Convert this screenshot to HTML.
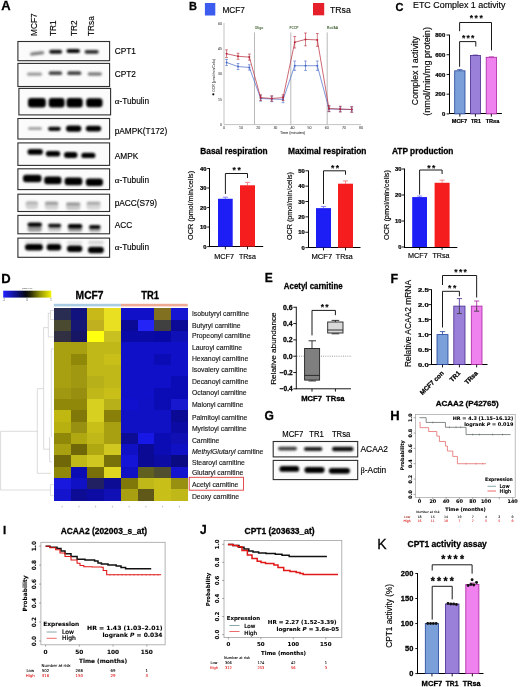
<!DOCTYPE html><html><head><meta charset="utf-8"><title>Figure</title>
<style>html,body{margin:0;padding:0;background:#fff;}svg{display:block;}text{font-family:'Liberation Sans', Arial, sans-serif;}</style></head><body>
<svg width="520" height="687" viewBox="0 0 520 687">
<defs><filter id="bl" x="-30%" y="-80%" width="160%" height="260%"><feGaussianBlur stdDeviation="0.9"/></filter><filter id="bl2" x="-30%" y="-80%" width="160%" height="260%"><feGaussianBlur stdDeviation="1.3"/></filter><linearGradient id="ck" x1="0" x2="1" y1="0" y2="0"><stop offset="0" stop-color="#2222ff"/><stop offset="0.25" stop-color="#101090"/><stop offset="0.47" stop-color="#050510"/><stop offset="0.55" stop-color="#202005"/><stop offset="0.78" stop-color="#9a9a05"/><stop offset="1" stop-color="#f5f500"/></linearGradient></defs>
<rect x="0" y="0" width="520" height="687" fill="#fff" stroke="none" stroke-width="1" />
<text x="1.2" y="10.4" font-size="13" stroke="#000" stroke-width="0.28" font-weight="bold">A</text>
<text x="37.3" y="36" font-size="8.3" stroke="#000" stroke-width="0.15" transform="rotate(-90 37.3 36)">MCF7</text>
<text x="55.7" y="36" font-size="8.3" stroke="#000" stroke-width="0.15" transform="rotate(-90 55.7 36)">TR1</text>
<text x="76.5" y="36" font-size="8.3" stroke="#000" stroke-width="0.15" transform="rotate(-90 76.5 36)">TR2</text>
<text x="94.2" y="36" font-size="8.3" stroke="#000" stroke-width="0.15" transform="rotate(-90 94.2 36)">TRsa</text>
<rect x="17.9" y="41.5" width="91.7" height="19.2" fill="#fbfbfb" stroke="#2e2e2e" stroke-width="1.1" />
<text x="114.7" y="54.1" font-size="8.3" stroke="#000" stroke-width="0.15">CPT1</text>
<rect x="17.9" y="63.4" width="91.7" height="23.1" fill="#fbfbfb" stroke="#2e2e2e" stroke-width="1.1" />
<text x="114.7" y="77.1" font-size="8.3" stroke="#000" stroke-width="0.15">CPT2</text>
<rect x="18.9" y="88.4" width="91.7" height="26.5" fill="#fbfbfb" stroke="#2e2e2e" stroke-width="1.1" />
<text x="114.7" y="104.3" font-size="8.3" stroke="#000" stroke-width="0.15"><tspan style="font-family:Liberation Serif" font-size="9">&#945;</tspan>-Tubulin</text>
<rect x="17.9" y="118.5" width="91.7" height="20.5" fill="#fbfbfb" stroke="#2e2e2e" stroke-width="1.1" />
<text x="114.7" y="134.2" font-size="8.3" stroke="#000" stroke-width="0.15">pAMPK(T172)</text>
<rect x="17.9" y="142.9" width="91.7" height="22.5" fill="#fbfbfb" stroke="#2e2e2e" stroke-width="1.1" />
<text x="114.7" y="159" font-size="8.3" stroke="#000" stroke-width="0.15">AMPK</text>
<rect x="17.9" y="168.8" width="91.7" height="20.8" fill="#fbfbfb" stroke="#2e2e2e" stroke-width="1.1" />
<text x="114.7" y="183" font-size="8.3" stroke="#000" stroke-width="0.15"><tspan style="font-family:Liberation Serif" font-size="9">&#945;</tspan>-Tubulin</text>
<rect x="17.9" y="194.2" width="91.7" height="17.3" fill="#fbfbfb" stroke="#2e2e2e" stroke-width="1.1" />
<text x="114.7" y="206" font-size="8.3" stroke="#000" stroke-width="0.15">pACC(S79)</text>
<rect x="17.9" y="215.4" width="91.7" height="18.4" fill="#fbfbfb" stroke="#2e2e2e" stroke-width="1.1" />
<text x="114.7" y="228" font-size="8.3" stroke="#000" stroke-width="0.15">ACC</text>
<rect x="17.9" y="238.1" width="91.7" height="19.2" fill="#fbfbfb" stroke="#2e2e2e" stroke-width="1.1" />
<text x="114.7" y="250.3" font-size="8.3" stroke="#000" stroke-width="0.15"><tspan style="font-family:Liberation Serif" font-size="9">&#945;</tspan>-Tubulin</text>
<rect x="49.2" y="49.8" width="12.9" height="4" rx="2" fill="#000" fill-opacity="0.92" filter="url(#bl)"/>
<rect x="66.5" y="49.1" width="13.5" height="4" rx="2" fill="#000" fill-opacity="0.97" filter="url(#bl)"/>
<rect x="84.6" y="49.9" width="14.1" height="3.8" rx="1.9" fill="#000" fill-opacity="0.82" filter="url(#bl)"/>
<rect x="27" y="72.6" width="15" height="3.2" rx="1.6" fill="#000" fill-opacity="0.38" filter="url(#bl)"/>
<rect x="48.7" y="71.3" width="13.4" height="3.8" rx="1.9" fill="#000" fill-opacity="0.72" filter="url(#bl)"/>
<rect x="67.3" y="71.3" width="14" height="3.8" rx="1.9" fill="#000" fill-opacity="0.74" filter="url(#bl)"/>
<rect x="87.7" y="72.3" width="14.2" height="3.4" rx="1.7" fill="#000" fill-opacity="0.5" filter="url(#bl)"/>
<rect x="28" y="98.1" width="17.8" height="9.4" rx="3" fill="#000" fill-opacity="1" filter="url(#bl)"/>
<rect x="48.7" y="98.1" width="15.9" height="9.4" rx="3" fill="#000" fill-opacity="1" filter="url(#bl)"/>
<rect x="66.5" y="98.1" width="16.2" height="9.4" rx="3" fill="#000" fill-opacity="1" filter="url(#bl)"/>
<rect x="86.2" y="98.3" width="16.3" height="9" rx="3" fill="#000" fill-opacity="1" filter="url(#bl)"/>
<rect x="28" y="127" width="14" height="3" rx="1.5" fill="#000" fill-opacity="0.35" filter="url(#bl)"/>
<rect x="48" y="126.7" width="12.8" height="4.2" rx="2.1" fill="#000" fill-opacity="0.95" filter="url(#bl)"/>
<rect x="66" y="125.5" width="15.3" height="6.2" rx="3" fill="#000" fill-opacity="1" filter="url(#bl)"/>
<rect x="85.8" y="125.7" width="15.4" height="5.8" rx="2.9" fill="#000" fill-opacity="1" filter="url(#bl)"/>
<rect x="27.5" y="149.1" width="15.4" height="5.6" rx="2.8" fill="#000" fill-opacity="1" filter="url(#bl)"/>
<rect x="45.8" y="151" width="14.4" height="5.6" rx="2.8" fill="#000" fill-opacity="1" filter="url(#bl)"/>
<rect x="64" y="152.1" width="13.5" height="5.8" rx="2.9" fill="#000" fill-opacity="1" filter="url(#bl)"/>
<rect x="81.3" y="152.7" width="14.1" height="5.4" rx="2.7" fill="#000" fill-opacity="1" filter="url(#bl)"/>
<rect x="23" y="174.7" width="18.5" height="7.6" rx="3" fill="#000" fill-opacity="1" filter="url(#bl)"/>
<rect x="44.2" y="176.6" width="17.3" height="7.6" rx="3" fill="#000" fill-opacity="1" filter="url(#bl)"/>
<rect x="64.6" y="177.4" width="17.7" height="7.8" rx="3" fill="#000" fill-opacity="1" filter="url(#bl)"/>
<rect x="85.8" y="178.5" width="17.2" height="7.6" rx="3" fill="#000" fill-opacity="1" filter="url(#bl)"/>
<rect x="25.6" y="201" width="12.4" height="8" rx="3" fill="#000" fill-opacity="0.17" filter="url(#bl2)"/>
<rect x="44.8" y="202.5" width="13.5" height="7" rx="3" fill="#000" fill-opacity="0.17" filter="url(#bl2)"/>
<rect x="66" y="203" width="14.4" height="7" rx="3" fill="#000" fill-opacity="0.2" filter="url(#bl2)"/>
<rect x="86.5" y="202.5" width="14.1" height="7" rx="3" fill="#000" fill-opacity="0.15" filter="url(#bl2)"/>
<rect x="25.6" y="201.7" width="12.4" height="2.6" rx="1.3" fill="#000" fill-opacity="0.15" filter="url(#bl)"/>
<rect x="44.8" y="201.5" width="13.5" height="3" rx="1.5" fill="#000" fill-opacity="0.3" filter="url(#bl)"/>
<rect x="66" y="202.3" width="14.4" height="3" rx="1.5" fill="#000" fill-opacity="0.28" filter="url(#bl)"/>
<rect x="86.5" y="201.5" width="14.1" height="3" rx="1.5" fill="#000" fill-opacity="0.25" filter="url(#bl)"/>
<rect x="27.5" y="225.8" width="14.5" height="6" rx="3" fill="#000" fill-opacity="0.38" filter="url(#bl2)"/>
<rect x="48" y="226.5" width="13.2" height="5" rx="2.5" fill="#000" fill-opacity="0.22" filter="url(#bl2)"/>
<rect x="67.9" y="227" width="14.4" height="5" rx="2.5" fill="#000" fill-opacity="0.35" filter="url(#bl2)"/>
<rect x="89" y="227.75" width="11.6" height="4.5" rx="2.25" fill="#000" fill-opacity="0.3" filter="url(#bl2)"/>
<rect x="27.5" y="222.4" width="14.5" height="4.4" rx="2.2" fill="#000" fill-opacity="1" filter="url(#bl)"/>
<rect x="48" y="223.8" width="13.2" height="3.6" rx="1.8" fill="#000" fill-opacity="0.95" filter="url(#bl)"/>
<rect x="67.9" y="224" width="14.4" height="4.4" rx="2.2" fill="#000" fill-opacity="1" filter="url(#bl)"/>
<rect x="89" y="225" width="11.6" height="4" rx="2" fill="#000" fill-opacity="0.95" filter="url(#bl)"/>
<rect x="25" y="240.5" width="17.9" height="3" rx="1.5" fill="#000" fill-opacity="0.1" filter="url(#bl2)"/>
<rect x="46.7" y="240.5" width="14.5" height="3" rx="1.5" fill="#000" fill-opacity="0.1" filter="url(#bl2)"/>
<rect x="67" y="241" width="15.3" height="3" rx="1.5" fill="#000" fill-opacity="0.12" filter="url(#bl2)"/>
<rect x="88" y="240.75" width="15.8" height="3.5" rx="1.75" fill="#000" fill-opacity="0.15" filter="url(#bl2)"/>
<rect x="25" y="244" width="17.9" height="6.6" rx="3" fill="#000" fill-opacity="1" filter="url(#bl)"/>
<rect x="46.7" y="244" width="14.5" height="6.6" rx="3" fill="#000" fill-opacity="1" filter="url(#bl)"/>
<rect x="67" y="245.4" width="15.3" height="6.6" rx="3" fill="#000" fill-opacity="1" filter="url(#bl)"/>
<rect x="88" y="246.8" width="15.8" height="6.4" rx="3" fill="#000" fill-opacity="1" filter="url(#bl)"/>
<rect x="30" y="51.7" width="14.2" height="3.4" rx="1.7" fill="#000" fill-opacity="0.5" filter="url(#bl)" transform="rotate(-7 37.1 53.4)"/>
<text x="189" y="10.1" font-size="11" stroke="#000" stroke-width="0.28" font-weight="bold">B</text>
<rect x="204.9" y="3" width="10.4" height="12.5" fill="#3c5cf0" stroke="none" stroke-width="1" />
<text x="222.4" y="12.8" font-size="8.5" stroke="#000" stroke-width="0.15" textLength="22.5" lengthAdjust="spacingAndGlyphs">MCF7</text>
<rect x="313" y="3" width="11.2" height="12.3" fill="#e5202a" stroke="none" stroke-width="1" />
<text x="330" y="12.8" font-size="8.5" stroke="#000" stroke-width="0.15" textLength="20.7" lengthAdjust="spacingAndGlyphs">TRsa</text>
<line x1="224" y1="23" x2="224" y2="124.6" stroke="#9a9a9a" stroke-width="0.6" />
<line x1="224" y1="124.6" x2="361" y2="124.6" stroke="#9a9a9a" stroke-width="0.6" />
<text x="222" y="125.9" font-size="3.6" stroke="#555" stroke-width="0.08" text-anchor="end" fill="#555">0</text>
<text x="222" y="100.59" font-size="3.6" stroke="#555" stroke-width="0.08" text-anchor="end" fill="#555">15</text>
<text x="222" y="75.29" font-size="3.6" stroke="#555" stroke-width="0.08" text-anchor="end" fill="#555">30</text>
<text x="222" y="49.98" font-size="3.6" stroke="#555" stroke-width="0.08" text-anchor="end" fill="#555">45</text>
<text x="222" y="24.68" font-size="3.6" stroke="#555" stroke-width="0.08" text-anchor="end" fill="#555">60</text>
<text x="224" y="129.3" font-size="3.6" stroke="#555" stroke-width="0.08" text-anchor="middle" fill="#555">0</text>
<text x="241.12" y="129.3" font-size="3.6" stroke="#555" stroke-width="0.08" text-anchor="middle" fill="#555">10</text>
<text x="258.25" y="129.3" font-size="3.6" stroke="#555" stroke-width="0.08" text-anchor="middle" fill="#555">20</text>
<text x="275.38" y="129.3" font-size="3.6" stroke="#555" stroke-width="0.08" text-anchor="middle" fill="#555">30</text>
<text x="292.5" y="129.3" font-size="3.6" stroke="#555" stroke-width="0.08" text-anchor="middle" fill="#555">40</text>
<text x="309.62" y="129.3" font-size="3.6" stroke="#555" stroke-width="0.08" text-anchor="middle" fill="#555">50</text>
<text x="326.75" y="129.3" font-size="3.6" stroke="#555" stroke-width="0.08" text-anchor="middle" fill="#555">60</text>
<text x="343.88" y="129.3" font-size="3.6" stroke="#555" stroke-width="0.08" text-anchor="middle" fill="#555">70</text>
<text x="361" y="129.3" font-size="3.6" stroke="#555" stroke-width="0.08" text-anchor="middle" fill="#555">80</text>
<text x="292.5" y="134" font-size="3.8" stroke="#444" stroke-width="0.08" text-anchor="middle" fill="#444">Time (minutes)</text>
<circle cx="213.3" cy="94.3" r="1.1" fill="#111"/>
<text x="214.6" y="91.8" font-size="3.4" stroke="#444" stroke-width="0.07" fill="#444" transform="rotate(-90 214.6 91.8)">OCR (pmol/min/Cells)</text>
<line x1="254.5" y1="32.4" x2="254.5" y2="124.6" stroke="#8a8a8a" stroke-width="0.6" />
<text x="254.8" y="29.2" font-size="3.3" font-weight="bold" fill="#3f6032">Oligo</text>
<line x1="290.8" y1="32.4" x2="290.8" y2="124.6" stroke="#8a8a8a" stroke-width="0.6" />
<text x="289.4" y="29.2" font-size="3.3" font-weight="bold" fill="#3f6032">FCCP</text>
<line x1="327.2" y1="32.4" x2="327.2" y2="124.6" stroke="#8a8a8a" stroke-width="0.6" />
<text x="327" y="29.2" font-size="3.3" font-weight="bold" fill="#3f6032">Rot/AA</text>
<polyline points="226.57,62.52 238.04,66.57 249.34,67.41 260.65,98.45 271.78,98.96 283.08,99.46 294.73,65.72 305.51,65.72 317.33,65.72 328.98,108.91 340.28,109.25 351.75,109.59" stroke="#4868c8" stroke-width="0.7" fill="none" />
<line x1="226.57" y1="59.48" x2="226.57" y2="65.55" stroke="#4868c8" stroke-width="0.6" />
<line x1="225.17" y1="59.48" x2="227.97" y2="59.48" stroke="#4868c8" stroke-width="0.6" />
<line x1="225.17" y1="65.55" x2="227.97" y2="65.55" stroke="#4868c8" stroke-width="0.6" />
<circle cx="226.57" cy="62.52" r="1.0" fill="#4868c8"/>
<line x1="238.04" y1="63.53" x2="238.04" y2="69.6" stroke="#4868c8" stroke-width="0.6" />
<line x1="236.64" y1="63.53" x2="239.44" y2="63.53" stroke="#4868c8" stroke-width="0.6" />
<line x1="236.64" y1="69.6" x2="239.44" y2="69.6" stroke="#4868c8" stroke-width="0.6" />
<circle cx="238.04" cy="66.57" r="1.0" fill="#4868c8"/>
<line x1="249.34" y1="64.71" x2="249.34" y2="70.11" stroke="#4868c8" stroke-width="0.6" />
<line x1="247.94" y1="64.71" x2="250.75" y2="64.71" stroke="#4868c8" stroke-width="0.6" />
<line x1="247.94" y1="70.11" x2="250.75" y2="70.11" stroke="#4868c8" stroke-width="0.6" />
<circle cx="249.34" cy="67.41" r="1.0" fill="#4868c8"/>
<line x1="260.65" y1="95.75" x2="260.65" y2="101.15" stroke="#4868c8" stroke-width="0.6" />
<line x1="259.25" y1="95.75" x2="262.05" y2="95.75" stroke="#4868c8" stroke-width="0.6" />
<line x1="259.25" y1="101.15" x2="262.05" y2="101.15" stroke="#4868c8" stroke-width="0.6" />
<circle cx="260.65" cy="98.45" r="1.0" fill="#4868c8"/>
<line x1="271.78" y1="96.26" x2="271.78" y2="101.66" stroke="#4868c8" stroke-width="0.6" />
<line x1="270.38" y1="96.26" x2="273.18" y2="96.26" stroke="#4868c8" stroke-width="0.6" />
<line x1="270.38" y1="101.66" x2="273.18" y2="101.66" stroke="#4868c8" stroke-width="0.6" />
<circle cx="271.78" cy="98.96" r="1.0" fill="#4868c8"/>
<line x1="283.08" y1="96.26" x2="283.08" y2="102.67" stroke="#4868c8" stroke-width="0.6" />
<line x1="281.68" y1="96.26" x2="284.48" y2="96.26" stroke="#4868c8" stroke-width="0.6" />
<line x1="281.68" y1="102.67" x2="284.48" y2="102.67" stroke="#4868c8" stroke-width="0.6" />
<circle cx="283.08" cy="99.46" r="1.0" fill="#4868c8"/>
<line x1="294.73" y1="61" x2="294.73" y2="70.45" stroke="#4868c8" stroke-width="0.6" />
<line x1="293.33" y1="61" x2="296.13" y2="61" stroke="#4868c8" stroke-width="0.6" />
<line x1="293.33" y1="70.45" x2="296.13" y2="70.45" stroke="#4868c8" stroke-width="0.6" />
<circle cx="294.73" cy="65.72" r="1.0" fill="#4868c8"/>
<line x1="305.51" y1="61" x2="305.51" y2="70.45" stroke="#4868c8" stroke-width="0.6" />
<line x1="304.12" y1="61" x2="306.91" y2="61" stroke="#4868c8" stroke-width="0.6" />
<line x1="304.12" y1="70.45" x2="306.91" y2="70.45" stroke="#4868c8" stroke-width="0.6" />
<circle cx="305.51" cy="65.72" r="1.0" fill="#4868c8"/>
<line x1="317.33" y1="61" x2="317.33" y2="70.45" stroke="#4868c8" stroke-width="0.6" />
<line x1="315.93" y1="61" x2="318.73" y2="61" stroke="#4868c8" stroke-width="0.6" />
<line x1="315.93" y1="70.45" x2="318.73" y2="70.45" stroke="#4868c8" stroke-width="0.6" />
<circle cx="317.33" cy="65.72" r="1.0" fill="#4868c8"/>
<line x1="328.98" y1="106.21" x2="328.98" y2="111.61" stroke="#4868c8" stroke-width="0.6" />
<line x1="327.58" y1="106.21" x2="330.38" y2="106.21" stroke="#4868c8" stroke-width="0.6" />
<line x1="327.58" y1="111.61" x2="330.38" y2="111.61" stroke="#4868c8" stroke-width="0.6" />
<circle cx="328.98" cy="108.91" r="1.0" fill="#4868c8"/>
<line x1="340.28" y1="106.72" x2="340.28" y2="111.78" stroke="#4868c8" stroke-width="0.6" />
<line x1="338.88" y1="106.72" x2="341.68" y2="106.72" stroke="#4868c8" stroke-width="0.6" />
<line x1="338.88" y1="111.78" x2="341.68" y2="111.78" stroke="#4868c8" stroke-width="0.6" />
<circle cx="340.28" cy="109.25" r="1.0" fill="#4868c8"/>
<line x1="351.75" y1="107.06" x2="351.75" y2="112.12" stroke="#4868c8" stroke-width="0.6" />
<line x1="350.35" y1="107.06" x2="353.15" y2="107.06" stroke="#4868c8" stroke-width="0.6" />
<line x1="350.35" y1="112.12" x2="353.15" y2="112.12" stroke="#4868c8" stroke-width="0.6" />
<circle cx="351.75" cy="109.59" r="1.0" fill="#4868c8"/>
<polyline points="226.57,53.75 238.04,56.28 249.34,57.12 260.65,97.61 271.78,98.45 283.08,97.61 294.73,42.27 305.51,39.41 317.33,39.91 328.98,108.57 340.28,109.08 351.75,109.42" stroke="#b82838" stroke-width="0.7" fill="none" />
<line x1="226.57" y1="49.87" x2="226.57" y2="57.63" stroke="#b82838" stroke-width="0.6" />
<line x1="225.17" y1="49.87" x2="227.97" y2="49.87" stroke="#b82838" stroke-width="0.6" />
<line x1="225.17" y1="57.63" x2="227.97" y2="57.63" stroke="#b82838" stroke-width="0.6" />
<circle cx="226.57" cy="53.75" r="1.0" fill="#b82838"/>
<line x1="238.04" y1="53.24" x2="238.04" y2="59.31" stroke="#b82838" stroke-width="0.6" />
<line x1="236.64" y1="53.24" x2="239.44" y2="53.24" stroke="#b82838" stroke-width="0.6" />
<line x1="236.64" y1="59.31" x2="239.44" y2="59.31" stroke="#b82838" stroke-width="0.6" />
<circle cx="238.04" cy="56.28" r="1.0" fill="#b82838"/>
<line x1="249.34" y1="54.08" x2="249.34" y2="60.16" stroke="#b82838" stroke-width="0.6" />
<line x1="247.94" y1="54.08" x2="250.75" y2="54.08" stroke="#b82838" stroke-width="0.6" />
<line x1="247.94" y1="60.16" x2="250.75" y2="60.16" stroke="#b82838" stroke-width="0.6" />
<circle cx="249.34" cy="57.12" r="1.0" fill="#b82838"/>
<line x1="260.65" y1="94.74" x2="260.65" y2="100.48" stroke="#b82838" stroke-width="0.6" />
<line x1="259.25" y1="94.74" x2="262.05" y2="94.74" stroke="#b82838" stroke-width="0.6" />
<line x1="259.25" y1="100.48" x2="262.05" y2="100.48" stroke="#b82838" stroke-width="0.6" />
<circle cx="260.65" cy="97.61" r="1.0" fill="#b82838"/>
<line x1="271.78" y1="95.75" x2="271.78" y2="101.15" stroke="#b82838" stroke-width="0.6" />
<line x1="270.38" y1="95.75" x2="273.18" y2="95.75" stroke="#b82838" stroke-width="0.6" />
<line x1="270.38" y1="101.15" x2="273.18" y2="101.15" stroke="#b82838" stroke-width="0.6" />
<circle cx="271.78" cy="98.45" r="1.0" fill="#b82838"/>
<line x1="283.08" y1="94.74" x2="283.08" y2="100.48" stroke="#b82838" stroke-width="0.6" />
<line x1="281.68" y1="94.74" x2="284.48" y2="94.74" stroke="#b82838" stroke-width="0.6" />
<line x1="281.68" y1="100.48" x2="284.48" y2="100.48" stroke="#b82838" stroke-width="0.6" />
<circle cx="283.08" cy="97.61" r="1.0" fill="#b82838"/>
<line x1="294.73" y1="36.54" x2="294.73" y2="48.01" stroke="#b82838" stroke-width="0.6" />
<line x1="293.33" y1="36.54" x2="296.13" y2="36.54" stroke="#b82838" stroke-width="0.6" />
<line x1="293.33" y1="48.01" x2="296.13" y2="48.01" stroke="#b82838" stroke-width="0.6" />
<circle cx="294.73" cy="42.27" r="1.0" fill="#b82838"/>
<line x1="305.51" y1="33" x2="305.51" y2="45.82" stroke="#b82838" stroke-width="0.6" />
<line x1="304.12" y1="33" x2="306.91" y2="33" stroke="#b82838" stroke-width="0.6" />
<line x1="304.12" y1="45.82" x2="306.91" y2="45.82" stroke="#b82838" stroke-width="0.6" />
<circle cx="305.51" cy="39.41" r="1.0" fill="#b82838"/>
<line x1="317.33" y1="33.5" x2="317.33" y2="46.32" stroke="#b82838" stroke-width="0.6" />
<line x1="315.93" y1="33.5" x2="318.73" y2="33.5" stroke="#b82838" stroke-width="0.6" />
<line x1="315.93" y1="46.32" x2="318.73" y2="46.32" stroke="#b82838" stroke-width="0.6" />
<circle cx="317.33" cy="39.91" r="1.0" fill="#b82838"/>
<line x1="328.98" y1="105.54" x2="328.98" y2="111.61" stroke="#b82838" stroke-width="0.6" />
<line x1="327.58" y1="105.54" x2="330.38" y2="105.54" stroke="#b82838" stroke-width="0.6" />
<line x1="327.58" y1="111.61" x2="330.38" y2="111.61" stroke="#b82838" stroke-width="0.6" />
<circle cx="328.98" cy="108.57" r="1.0" fill="#b82838"/>
<line x1="340.28" y1="106.21" x2="340.28" y2="111.95" stroke="#b82838" stroke-width="0.6" />
<line x1="338.88" y1="106.21" x2="341.68" y2="106.21" stroke="#b82838" stroke-width="0.6" />
<line x1="338.88" y1="111.95" x2="341.68" y2="111.95" stroke="#b82838" stroke-width="0.6" />
<circle cx="340.28" cy="109.08" r="1.0" fill="#b82838"/>
<line x1="351.75" y1="106.55" x2="351.75" y2="112.28" stroke="#b82838" stroke-width="0.6" />
<line x1="350.35" y1="106.55" x2="353.15" y2="106.55" stroke="#b82838" stroke-width="0.6" />
<line x1="350.35" y1="112.28" x2="353.15" y2="112.28" stroke="#b82838" stroke-width="0.6" />
<circle cx="351.75" cy="109.42" r="1.0" fill="#b82838"/>
<text x="234" y="154.2" font-size="8.3" stroke="#000" stroke-width="0.28" font-weight="bold" text-anchor="middle" textLength="67.4" lengthAdjust="spacingAndGlyphs">Basal respiration</text>
<line x1="209.5" y1="168.1" x2="209.5" y2="247" stroke="#000" stroke-width="1" />
<line x1="209" y1="246.5" x2="263.2" y2="246.5" stroke="#000" stroke-width="1" />
<line x1="207.2" y1="246.6" x2="209.8" y2="246.6" stroke="#000" stroke-width="0.9" />
<text x="206.6" y="248.72" font-size="5.9" stroke="#000" stroke-width="0.24" font-weight="bold" text-anchor="end" textLength="3.25" lengthAdjust="spacingAndGlyphs">0</text>
<line x1="207.2" y1="227.07" x2="209.8" y2="227.07" stroke="#000" stroke-width="0.9" />
<text x="206.6" y="229.2" font-size="5.9" stroke="#000" stroke-width="0.24" font-weight="bold" text-anchor="end" textLength="6.5" lengthAdjust="spacingAndGlyphs">10</text>
<line x1="207.2" y1="207.55" x2="209.8" y2="207.55" stroke="#000" stroke-width="0.9" />
<text x="206.6" y="209.67" font-size="5.9" stroke="#000" stroke-width="0.24" font-weight="bold" text-anchor="end" textLength="6.5" lengthAdjust="spacingAndGlyphs">20</text>
<line x1="207.2" y1="188.03" x2="209.8" y2="188.03" stroke="#000" stroke-width="0.9" />
<text x="206.6" y="190.15" font-size="5.9" stroke="#000" stroke-width="0.24" font-weight="bold" text-anchor="end" textLength="6.5" lengthAdjust="spacingAndGlyphs">30</text>
<line x1="207.2" y1="168.5" x2="209.8" y2="168.5" stroke="#000" stroke-width="0.9" />
<text x="206.6" y="170.62" font-size="5.9" stroke="#000" stroke-width="0.24" font-weight="bold" text-anchor="end" textLength="6.5" lengthAdjust="spacingAndGlyphs">40</text>
<line x1="225.35" y1="197.2" x2="225.35" y2="198.76" stroke="#6a6af8" stroke-width="0.8" />
<line x1="222.75" y1="197.2" x2="227.95" y2="197.2" stroke="#6a6af8" stroke-width="0.8" />
<rect x="218" y="198.76" width="14.7" height="47.84" fill="#1d1df5" stroke="#1d1df5" stroke-width="0" />
<line x1="225.35" y1="246.6" x2="225.35" y2="249.4" stroke="#000" stroke-width="0.9" />
<line x1="247.5" y1="182.36" x2="247.5" y2="185.29" stroke="#f87070" stroke-width="0.8" />
<line x1="244.9" y1="182.36" x2="250.1" y2="182.36" stroke="#f87070" stroke-width="0.8" />
<rect x="240" y="185.29" width="15" height="61.31" fill="#f51d1d" stroke="#f51d1d" stroke-width="0" />
<line x1="247.5" y1="246.6" x2="247.5" y2="249.4" stroke="#000" stroke-width="0.9" />
<polyline points="225.4,194 225.4,173.5 247.5,173.5 247.5,178" stroke="#000" stroke-width="0.9" fill="none" />
<text x="232.58" y="173.03" font-size="8.5" stroke="#000" stroke-width="0.1" font-weight="bold">*</text>
<text x="237.38" y="173.03" font-size="8.5" stroke="#000" stroke-width="0.1" font-weight="bold">*</text>
<text x="224.1" y="258.5" font-size="7.3" stroke="#000" stroke-width="0.15" text-anchor="middle" textLength="19.8" lengthAdjust="spacingAndGlyphs">MCF7</text>
<text x="247.4" y="258.5" font-size="7.3" stroke="#000" stroke-width="0.15" text-anchor="middle" textLength="16.8" lengthAdjust="spacingAndGlyphs">TRsa</text>
<text x="192.7" y="205.4" font-size="7.3" stroke="#000" stroke-width="0.15" text-anchor="middle" textLength="69" lengthAdjust="spacingAndGlyphs" transform="rotate(-90 192.7 205.4)">OCR (pmol/min/cells)</text>
<text x="327.2" y="154.2" font-size="8.3" stroke="#000" stroke-width="0.28" font-weight="bold" text-anchor="middle" textLength="78.5" lengthAdjust="spacingAndGlyphs">Maximal respiration</text>
<line x1="308.5" y1="170.4" x2="308.5" y2="248" stroke="#000" stroke-width="1" />
<line x1="308" y1="247.5" x2="360.5" y2="247.5" stroke="#000" stroke-width="1" />
<line x1="305.4" y1="247.6" x2="308" y2="247.6" stroke="#000" stroke-width="0.9" />
<text x="304.8" y="249.72" font-size="5.9" stroke="#000" stroke-width="0.24" font-weight="bold" text-anchor="end" textLength="3.25" lengthAdjust="spacingAndGlyphs">0</text>
<line x1="305.4" y1="232.24" x2="308" y2="232.24" stroke="#000" stroke-width="0.9" />
<text x="304.8" y="234.36" font-size="5.9" stroke="#000" stroke-width="0.24" font-weight="bold" text-anchor="end" textLength="6.5" lengthAdjust="spacingAndGlyphs">10</text>
<line x1="305.4" y1="216.88" x2="308" y2="216.88" stroke="#000" stroke-width="0.9" />
<text x="304.8" y="219" font-size="5.9" stroke="#000" stroke-width="0.24" font-weight="bold" text-anchor="end" textLength="6.5" lengthAdjust="spacingAndGlyphs">20</text>
<line x1="305.4" y1="201.52" x2="308" y2="201.52" stroke="#000" stroke-width="0.9" />
<text x="304.8" y="203.64" font-size="5.9" stroke="#000" stroke-width="0.24" font-weight="bold" text-anchor="end" textLength="6.5" lengthAdjust="spacingAndGlyphs">30</text>
<line x1="305.4" y1="186.16" x2="308" y2="186.16" stroke="#000" stroke-width="0.9" />
<text x="304.8" y="188.28" font-size="5.9" stroke="#000" stroke-width="0.24" font-weight="bold" text-anchor="end" textLength="6.5" lengthAdjust="spacingAndGlyphs">40</text>
<line x1="305.4" y1="170.8" x2="308" y2="170.8" stroke="#000" stroke-width="0.9" />
<text x="304.8" y="172.92" font-size="5.9" stroke="#000" stroke-width="0.24" font-weight="bold" text-anchor="end" textLength="6.5" lengthAdjust="spacingAndGlyphs">50</text>
<line x1="323.5" y1="206.59" x2="323.5" y2="208.12" stroke="#6a6af8" stroke-width="0.8" />
<line x1="320.9" y1="206.59" x2="326.1" y2="206.59" stroke="#6a6af8" stroke-width="0.8" />
<rect x="316" y="208.12" width="15" height="39.48" fill="#1d1df5" stroke="#1d1df5" stroke-width="0" />
<line x1="323.5" y1="247.6" x2="323.5" y2="250.4" stroke="#000" stroke-width="0.9" />
<line x1="345.5" y1="180.94" x2="345.5" y2="183.7" stroke="#f87070" stroke-width="0.8" />
<line x1="342.9" y1="180.94" x2="348.1" y2="180.94" stroke="#f87070" stroke-width="0.8" />
<rect x="338" y="183.7" width="15" height="63.9" fill="#f51d1d" stroke="#f51d1d" stroke-width="0" />
<line x1="345.5" y1="247.6" x2="345.5" y2="250.4" stroke="#000" stroke-width="0.9" />
<polyline points="323.5,204 323.5,170.8 345.5,170.8 345.5,174.7" stroke="#000" stroke-width="0.9" fill="none" />
<text x="330.99" y="170.94" font-size="8.5" stroke="#000" stroke-width="0.1" font-weight="bold">*</text>
<text x="335.69" y="170.94" font-size="8.5" stroke="#000" stroke-width="0.1" font-weight="bold">*</text>
<text x="321.9" y="259.3" font-size="7.3" stroke="#000" stroke-width="0.15" text-anchor="middle" textLength="20.9" lengthAdjust="spacingAndGlyphs">MCF7</text>
<text x="344.3" y="259.3" font-size="7.3" stroke="#000" stroke-width="0.15" text-anchor="middle" textLength="16.9" lengthAdjust="spacingAndGlyphs">TRsa</text>
<text x="292" y="206" font-size="7.3" stroke="#000" stroke-width="0.15" text-anchor="middle" textLength="68" lengthAdjust="spacingAndGlyphs" transform="rotate(-90 292 206)">OCR (pmol/min/cells)</text>
<text x="422.7" y="154.2" font-size="8.3" stroke="#000" stroke-width="0.28" font-weight="bold" text-anchor="middle" textLength="61.5" lengthAdjust="spacingAndGlyphs">ATP production</text>
<line x1="404.5" y1="168.6" x2="404.5" y2="248" stroke="#000" stroke-width="1" />
<line x1="404" y1="247.5" x2="457.3" y2="247.5" stroke="#000" stroke-width="1" />
<line x1="402" y1="247" x2="404.6" y2="247" stroke="#000" stroke-width="0.9" />
<text x="401.4" y="249.12" font-size="5.9" stroke="#000" stroke-width="0.24" font-weight="bold" text-anchor="end" textLength="3.25" lengthAdjust="spacingAndGlyphs">0</text>
<line x1="402" y1="221" x2="404.6" y2="221" stroke="#000" stroke-width="0.9" />
<text x="401.4" y="223.12" font-size="5.9" stroke="#000" stroke-width="0.24" font-weight="bold" text-anchor="end" textLength="6.5" lengthAdjust="spacingAndGlyphs">10</text>
<line x1="402" y1="195" x2="404.6" y2="195" stroke="#000" stroke-width="0.9" />
<text x="401.4" y="197.12" font-size="5.9" stroke="#000" stroke-width="0.24" font-weight="bold" text-anchor="end" textLength="6.5" lengthAdjust="spacingAndGlyphs">20</text>
<line x1="402" y1="169" x2="404.6" y2="169" stroke="#000" stroke-width="0.9" />
<text x="401.4" y="171.12" font-size="5.9" stroke="#000" stroke-width="0.24" font-weight="bold" text-anchor="end" textLength="6.5" lengthAdjust="spacingAndGlyphs">30</text>
<line x1="419.6" y1="196.04" x2="419.6" y2="197.08" stroke="#6a6af8" stroke-width="0.8" />
<line x1="417" y1="196.04" x2="422.2" y2="196.04" stroke="#6a6af8" stroke-width="0.8" />
<rect x="412.2" y="197.08" width="14.8" height="49.92" fill="#1d1df5" stroke="#1d1df5" stroke-width="0" />
<line x1="419.6" y1="247" x2="419.6" y2="249.8" stroke="#000" stroke-width="0.9" />
<line x1="442.1" y1="180.18" x2="442.1" y2="182.78" stroke="#f87070" stroke-width="0.8" />
<line x1="439.5" y1="180.18" x2="444.7" y2="180.18" stroke="#f87070" stroke-width="0.8" />
<rect x="434.6" y="182.78" width="15" height="64.22" fill="#f51d1d" stroke="#f51d1d" stroke-width="0" />
<line x1="442.1" y1="247" x2="442.1" y2="249.8" stroke="#000" stroke-width="0.9" />
<polyline points="419.6,194.6 419.6,170 442.1,170 442.1,174" stroke="#000" stroke-width="0.9" fill="none" />
<text x="427.19" y="171.34" font-size="8.5" stroke="#000" stroke-width="0.1" font-weight="bold">*</text>
<text x="431.88" y="171.34" font-size="8.5" stroke="#000" stroke-width="0.1" font-weight="bold">*</text>
<text x="417.9" y="258.3" font-size="7.3" stroke="#000" stroke-width="0.15" text-anchor="middle" textLength="19.7" lengthAdjust="spacingAndGlyphs">MCF7</text>
<text x="441" y="258.3" font-size="7.3" stroke="#000" stroke-width="0.15" text-anchor="middle" textLength="17.2" lengthAdjust="spacingAndGlyphs">TRsa</text>
<text x="388.5" y="205" font-size="7.3" stroke="#000" stroke-width="0.15" text-anchor="middle" textLength="70" lengthAdjust="spacingAndGlyphs" transform="rotate(-90 388.5 205)">OCR (pmol/min/cells)</text>
<text x="395.5" y="10.5" font-size="11" stroke="#000" stroke-width="0.28" font-weight="bold">C</text>
<text x="413" y="7.8" font-size="8.7" stroke="#000" stroke-width="0.15" textLength="92.5" lengthAdjust="spacingAndGlyphs">ETC Complex 1 activity</text>
<line x1="449.5" y1="34.6" x2="449.5" y2="114" stroke="#000" stroke-width="1" />
<line x1="449" y1="113.5" x2="501.9" y2="113.5" stroke="#000" stroke-width="1" />
<line x1="446.6" y1="113.9" x2="449.2" y2="113.9" stroke="#000" stroke-width="0.9" />
<text x="445.3" y="116.02" font-size="5.9" stroke="#000" stroke-width="0.24" font-weight="bold" text-anchor="end" textLength="3.33" lengthAdjust="spacingAndGlyphs">0</text>
<line x1="446.6" y1="94.18" x2="449.2" y2="94.18" stroke="#000" stroke-width="0.9" />
<text x="445.3" y="96.3" font-size="5.9" stroke="#000" stroke-width="0.24" font-weight="bold" text-anchor="end" textLength="9.99" lengthAdjust="spacingAndGlyphs">200</text>
<line x1="446.6" y1="74.45" x2="449.2" y2="74.45" stroke="#000" stroke-width="0.9" />
<text x="445.3" y="76.57" font-size="5.9" stroke="#000" stroke-width="0.24" font-weight="bold" text-anchor="end" textLength="9.99" lengthAdjust="spacingAndGlyphs">400</text>
<line x1="446.6" y1="54.73" x2="449.2" y2="54.73" stroke="#000" stroke-width="0.9" />
<text x="445.3" y="56.85" font-size="5.9" stroke="#000" stroke-width="0.24" font-weight="bold" text-anchor="end" textLength="9.99" lengthAdjust="spacingAndGlyphs">600</text>
<line x1="446.6" y1="35" x2="449.2" y2="35" stroke="#000" stroke-width="0.9" />
<text x="445.3" y="37.12" font-size="5.9" stroke="#000" stroke-width="0.24" font-weight="bold" text-anchor="end" textLength="9.99" lengthAdjust="spacingAndGlyphs">800</text>
<line x1="459.85" y1="69.62" x2="459.85" y2="70.8" stroke="#24449a" stroke-width="0.8" />
<line x1="457.25" y1="69.62" x2="462.45" y2="69.62" stroke="#24449a" stroke-width="0.8" />
<rect x="454.7" y="70.8" width="10.3" height="43.1" fill="#7b9fd8" stroke="#24449a" stroke-width="0.8" />
<line x1="459.85" y1="113.9" x2="459.85" y2="116.7" stroke="#000" stroke-width="0.9" />
<line x1="475.4" y1="55.12" x2="475.4" y2="55.51" stroke="#48288e" stroke-width="0.8" />
<line x1="472.8" y1="55.12" x2="478" y2="55.12" stroke="#48288e" stroke-width="0.8" />
<rect x="470.4" y="55.51" width="10" height="58.39" fill="#9b80da" stroke="#48288e" stroke-width="0.8" />
<line x1="475.4" y1="113.9" x2="475.4" y2="116.7" stroke="#000" stroke-width="0.9" />
<line x1="491.35" y1="56.89" x2="491.35" y2="57.29" stroke="#a8249e" stroke-width="0.8" />
<line x1="488.75" y1="56.89" x2="493.95" y2="56.89" stroke="#a8249e" stroke-width="0.8" />
<rect x="486.2" y="57.29" width="10.3" height="56.61" fill="#ef82ef" stroke="#a8249e" stroke-width="0.8" />
<line x1="491.35" y1="113.9" x2="491.35" y2="116.7" stroke="#000" stroke-width="0.9" />
<polyline points="459.6,66.8 459.6,41.6 475.8,41.6 475.8,46.5" stroke="#000" stroke-width="0.9" fill="none" />
<text x="461.88" y="41.13" font-size="8.5" stroke="#000" stroke-width="0.1" font-weight="bold">*</text>
<text x="466.38" y="41.13" font-size="8.5" stroke="#000" stroke-width="0.1" font-weight="bold">*</text>
<text x="470.99" y="41.13" font-size="8.5" stroke="#000" stroke-width="0.1" font-weight="bold">*</text>
<polyline points="459.6,31.2 459.6,22.5 491.5,22.5 491.5,50.4" stroke="#000" stroke-width="0.9" fill="none" />
<text x="469.69" y="21.34" font-size="8.5" stroke="#000" stroke-width="0.1" font-weight="bold">*</text>
<text x="474.58" y="21.34" font-size="8.5" stroke="#000" stroke-width="0.1" font-weight="bold">*</text>
<text x="479.49" y="21.34" font-size="8.5" stroke="#000" stroke-width="0.1" font-weight="bold">*</text>
<text x="418.4" y="70.8" font-size="8.8" stroke="#000" stroke-width="0.15" text-anchor="middle" textLength="68.8" lengthAdjust="spacingAndGlyphs" transform="rotate(-90 418.4 70.8)">Complex I activity</text>
<text x="429.9" y="71.4" font-size="8.8" stroke="#000" stroke-width="0.15" text-anchor="middle" textLength="88.8" lengthAdjust="spacingAndGlyphs" transform="rotate(-90 429.9 71.4)">(nmol/min/mg protein)</text>
<text x="459.5" y="123.4" font-size="5.9" stroke="#000" stroke-width="0.24" font-weight="bold" text-anchor="middle" textLength="15.3" lengthAdjust="spacingAndGlyphs">MCF7</text>
<text x="475.9" y="123.4" font-size="5.9" stroke="#000" stroke-width="0.24" font-weight="bold" text-anchor="middle" textLength="10" lengthAdjust="spacingAndGlyphs">TR1</text>
<text x="492.5" y="123.4" font-size="5.9" stroke="#000" stroke-width="0.24" font-weight="bold" text-anchor="middle" textLength="13.7" lengthAdjust="spacingAndGlyphs">TRsa</text>
<text x="1.3" y="283" font-size="13" stroke="#000" stroke-width="0.28" font-weight="bold">D</text>
<rect x="3.2" y="290.7" width="48.1" height="6.9" fill="url(#ck)" stroke="none" stroke-width="1" />
<text x="27.2" y="288.6" font-size="2.4" stroke="#777" stroke-width="0.05" text-anchor="middle" fill="#777">Color Key</text>
<line x1="3.8" y1="297.6" x2="3.8" y2="298.6" stroke="#999" stroke-width="0.4" />
<text x="3.8" y="301.4" font-size="2.6" stroke="#777" stroke-width="0.06" text-anchor="middle" fill="#777">-1</text>
<line x1="27.2" y1="297.6" x2="27.2" y2="298.6" stroke="#999" stroke-width="0.4" />
<text x="27.2" y="301.4" font-size="2.6" stroke="#777" stroke-width="0.06" text-anchor="middle" fill="#777">0</text>
<line x1="51" y1="297.6" x2="51" y2="298.6" stroke="#999" stroke-width="0.4" />
<text x="51" y="301.4" font-size="2.6" stroke="#777" stroke-width="0.06" text-anchor="middle" fill="#777">1</text>
<text x="75.6" y="298.7" font-size="10.3" stroke="#000" stroke-width="0.28" font-weight="bold" textLength="28" lengthAdjust="spacingAndGlyphs">MCF7</text>
<text x="141.3" y="298.7" font-size="10.3" stroke="#000" stroke-width="0.28" font-weight="bold" textLength="17.8" lengthAdjust="spacingAndGlyphs">TR1</text>
<rect x="53.8" y="303.8" width="67" height="2.6" fill="#a9cce3" stroke="none" stroke-width="1" />
<rect x="120.8" y="303.8" width="66.9" height="2.6" fill="#eeaa94" stroke="none" stroke-width="1" />
<g shape-rendering="crispEdges">
<rect x="53.8" y="308.2" width="17.24" height="11.83" fill="#2a2d52"/>
<rect x="70.54" y="308.2" width="17.24" height="11.83" fill="#12127f"/>
<rect x="87.28" y="308.2" width="17.24" height="11.83" fill="#c8b818"/>
<rect x="104.02" y="308.2" width="17.24" height="11.83" fill="#e8e020"/>
<rect x="120.76" y="308.2" width="17.24" height="11.83" fill="#1010c9"/>
<rect x="137.5" y="308.2" width="17.24" height="11.83" fill="#1010c9"/>
<rect x="154.24" y="308.2" width="17.24" height="11.83" fill="#807020"/>
<rect x="170.98" y="308.2" width="17.24" height="11.83" fill="#1515d2"/>
<rect x="53.8" y="319.53" width="17.24" height="11.83" fill="#4a4a30"/>
<rect x="70.54" y="319.53" width="17.24" height="11.83" fill="#161675"/>
<rect x="87.28" y="319.53" width="17.24" height="11.83" fill="#c0b020"/>
<rect x="104.02" y="319.53" width="17.24" height="11.83" fill="#e8e020"/>
<rect x="120.76" y="319.53" width="17.24" height="11.83" fill="#0a0a96"/>
<rect x="137.5" y="319.53" width="17.24" height="11.83" fill="#2424f7"/>
<rect x="154.24" y="319.53" width="17.24" height="11.83" fill="#404040"/>
<rect x="170.98" y="319.53" width="17.24" height="11.83" fill="#0a0a96"/>
<rect x="53.8" y="330.86" width="17.24" height="11.83" fill="#303042"/>
<rect x="70.54" y="330.86" width="17.24" height="11.83" fill="#161664"/>
<rect x="87.28" y="330.86" width="17.24" height="11.83" fill="#ffff10"/>
<rect x="104.02" y="330.86" width="17.24" height="11.83" fill="#c8c020"/>
<rect x="120.76" y="330.86" width="17.24" height="11.83" fill="#0a0aa6"/>
<rect x="137.5" y="330.86" width="17.24" height="11.83" fill="#0a0aa6"/>
<rect x="154.24" y="330.86" width="17.24" height="11.83" fill="#0808a4"/>
<rect x="170.98" y="330.86" width="17.24" height="11.83" fill="#1010b7"/>
<rect x="53.8" y="342.19" width="17.24" height="11.83" fill="#a8a010"/>
<rect x="70.54" y="342.19" width="17.24" height="11.83" fill="#a8a010"/>
<rect x="87.28" y="342.19" width="17.24" height="11.83" fill="#c0b818"/>
<rect x="104.02" y="342.19" width="17.24" height="11.83" fill="#c0b818"/>
<rect x="120.76" y="342.19" width="17.24" height="11.83" fill="#1010c9"/>
<rect x="137.5" y="342.19" width="17.24" height="11.83" fill="#1010c9"/>
<rect x="154.24" y="342.19" width="17.24" height="11.83" fill="#1010c9"/>
<rect x="170.98" y="342.19" width="17.24" height="11.83" fill="#1010c9"/>
<rect x="53.8" y="353.52" width="17.24" height="11.83" fill="#a8a010"/>
<rect x="70.54" y="353.52" width="17.24" height="11.83" fill="#908808"/>
<rect x="87.28" y="353.52" width="17.24" height="11.83" fill="#c0b818"/>
<rect x="104.02" y="353.52" width="17.24" height="11.83" fill="#c8c018"/>
<rect x="120.76" y="353.52" width="17.24" height="11.83" fill="#1010c9"/>
<rect x="137.5" y="353.52" width="17.24" height="11.83" fill="#1010c9"/>
<rect x="154.24" y="353.52" width="17.24" height="11.83" fill="#0c0cb7"/>
<rect x="170.98" y="353.52" width="17.24" height="11.83" fill="#1010c9"/>
<rect x="53.8" y="364.85" width="17.24" height="11.83" fill="#a8a010"/>
<rect x="70.54" y="364.85" width="17.24" height="11.83" fill="#a09810"/>
<rect x="87.28" y="364.85" width="17.24" height="11.83" fill="#c0b818"/>
<rect x="104.02" y="364.85" width="17.24" height="11.83" fill="#c0b818"/>
<rect x="120.76" y="364.85" width="17.24" height="11.83" fill="#1010c9"/>
<rect x="137.5" y="364.85" width="17.24" height="11.83" fill="#1010c9"/>
<rect x="154.24" y="364.85" width="17.24" height="11.83" fill="#1010c9"/>
<rect x="170.98" y="364.85" width="17.24" height="11.83" fill="#1010c9"/>
<rect x="53.8" y="376.18" width="17.24" height="11.83" fill="#a8a010"/>
<rect x="70.54" y="376.18" width="17.24" height="11.83" fill="#a09810"/>
<rect x="87.28" y="376.18" width="17.24" height="11.83" fill="#b8b018"/>
<rect x="104.02" y="376.18" width="17.24" height="11.83" fill="#c0b818"/>
<rect x="120.76" y="376.18" width="17.24" height="11.83" fill="#1010c9"/>
<rect x="137.5" y="376.18" width="17.24" height="11.83" fill="#1010c9"/>
<rect x="154.24" y="376.18" width="17.24" height="11.83" fill="#1010c9"/>
<rect x="170.98" y="376.18" width="17.24" height="11.83" fill="#0c0cb7"/>
<rect x="53.8" y="387.51" width="17.24" height="11.83" fill="#a09810"/>
<rect x="70.54" y="387.51" width="17.24" height="11.83" fill="#988f10"/>
<rect x="87.28" y="387.51" width="17.24" height="11.83" fill="#c0b818"/>
<rect x="104.02" y="387.51" width="17.24" height="11.83" fill="#c8c018"/>
<rect x="120.76" y="387.51" width="17.24" height="11.83" fill="#1010c9"/>
<rect x="137.5" y="387.51" width="17.24" height="11.83" fill="#1010c9"/>
<rect x="154.24" y="387.51" width="17.24" height="11.83" fill="#0c0cb7"/>
<rect x="170.98" y="387.51" width="17.24" height="11.83" fill="#0c0cb7"/>
<rect x="53.8" y="398.84" width="17.24" height="11.83" fill="#908808"/>
<rect x="70.54" y="398.84" width="17.24" height="11.83" fill="#908808"/>
<rect x="87.28" y="398.84" width="17.24" height="11.83" fill="#d8d020"/>
<rect x="104.02" y="398.84" width="17.24" height="11.83" fill="#b8b018"/>
<rect x="120.76" y="398.84" width="17.24" height="11.83" fill="#1010ce"/>
<rect x="137.5" y="398.84" width="17.24" height="11.83" fill="#1010c5"/>
<rect x="154.24" y="398.84" width="17.24" height="11.83" fill="#0c0cb5"/>
<rect x="170.98" y="398.84" width="17.24" height="11.83" fill="#1818ce"/>
<rect x="53.8" y="410.17" width="17.24" height="11.83" fill="#c0b810"/>
<rect x="70.54" y="410.17" width="17.24" height="11.83" fill="#807808"/>
<rect x="87.28" y="410.17" width="17.24" height="11.83" fill="#d8d020"/>
<rect x="104.02" y="410.17" width="17.24" height="11.83" fill="#888008"/>
<rect x="120.76" y="410.17" width="17.24" height="11.83" fill="#1010c5"/>
<rect x="137.5" y="410.17" width="17.24" height="11.83" fill="#1010c5"/>
<rect x="154.24" y="410.17" width="17.24" height="11.83" fill="#1010c5"/>
<rect x="170.98" y="410.17" width="17.24" height="11.83" fill="#0a0a94"/>
<rect x="53.8" y="421.5" width="17.24" height="11.83" fill="#b8b010"/>
<rect x="70.54" y="421.5" width="17.24" height="11.83" fill="#989010"/>
<rect x="87.28" y="421.5" width="17.24" height="11.83" fill="#c8c018"/>
<rect x="104.02" y="421.5" width="17.24" height="11.83" fill="#a8a010"/>
<rect x="120.76" y="421.5" width="17.24" height="11.83" fill="#1010c5"/>
<rect x="137.5" y="421.5" width="17.24" height="11.83" fill="#1010c5"/>
<rect x="154.24" y="421.5" width="17.24" height="11.83" fill="#1010c5"/>
<rect x="170.98" y="421.5" width="17.24" height="11.83" fill="#0c0ca4"/>
<rect x="53.8" y="432.83" width="17.24" height="11.83" fill="#908808"/>
<rect x="70.54" y="432.83" width="17.24" height="11.83" fill="#b0a810"/>
<rect x="87.28" y="432.83" width="17.24" height="11.83" fill="#c0b818"/>
<rect x="104.02" y="432.83" width="17.24" height="11.83" fill="#a8a010"/>
<rect x="120.76" y="432.83" width="17.24" height="11.83" fill="#0c0c94"/>
<rect x="137.5" y="432.83" width="17.24" height="11.83" fill="#1818e6"/>
<rect x="154.24" y="432.83" width="17.24" height="11.83" fill="#0c0cb5"/>
<rect x="170.98" y="432.83" width="17.24" height="11.83" fill="#1010b5"/>
<rect x="53.8" y="444.16" width="17.24" height="11.83" fill="#a8a010"/>
<rect x="70.54" y="444.16" width="17.24" height="11.83" fill="#706808"/>
<rect x="87.28" y="444.16" width="17.24" height="11.83" fill="#b0a810"/>
<rect x="104.02" y="444.16" width="17.24" height="11.83" fill="#d0c820"/>
<rect x="120.76" y="444.16" width="17.24" height="11.83" fill="#1010c5"/>
<rect x="137.5" y="444.16" width="17.24" height="11.83" fill="#0a0a94"/>
<rect x="154.24" y="444.16" width="17.24" height="11.83" fill="#0c0cb5"/>
<rect x="170.98" y="444.16" width="17.24" height="11.83" fill="#1010c5"/>
<rect x="53.8" y="455.49" width="17.24" height="11.83" fill="#706808"/>
<rect x="70.54" y="455.49" width="17.24" height="11.83" fill="#c0b818"/>
<rect x="87.28" y="455.49" width="17.24" height="11.83" fill="#d0c820"/>
<rect x="104.02" y="455.49" width="17.24" height="11.83" fill="#787008"/>
<rect x="120.76" y="455.49" width="17.24" height="11.83" fill="#1414d6"/>
<rect x="137.5" y="455.49" width="17.24" height="11.83" fill="#0a0a94"/>
<rect x="154.24" y="455.49" width="17.24" height="11.83" fill="#0c0ca4"/>
<rect x="170.98" y="455.49" width="17.24" height="11.83" fill="#0a0a83"/>
<rect x="53.8" y="466.82" width="17.24" height="11.83" fill="#908808"/>
<rect x="70.54" y="466.82" width="17.24" height="11.83" fill="#0c0cb5"/>
<rect x="87.28" y="466.82" width="17.24" height="11.83" fill="#787008"/>
<rect x="104.02" y="466.82" width="17.24" height="11.83" fill="#e0d820"/>
<rect x="120.76" y="466.82" width="17.24" height="11.83" fill="#1010c5"/>
<rect x="137.5" y="466.82" width="17.24" height="11.83" fill="#606020"/>
<rect x="154.24" y="466.82" width="17.24" height="11.83" fill="#505030"/>
<rect x="170.98" y="466.82" width="17.24" height="11.83" fill="#1414ce"/>
<rect x="53.8" y="478.15" width="17.24" height="11.83" fill="#1818de"/>
<rect x="70.54" y="478.15" width="17.24" height="11.83" fill="#1010c5"/>
<rect x="87.28" y="478.15" width="17.24" height="11.83" fill="#202062"/>
<rect x="104.02" y="478.15" width="17.24" height="11.83" fill="#0c0c94"/>
<rect x="120.76" y="478.15" width="17.24" height="11.83" fill="#807808"/>
<rect x="137.5" y="478.15" width="17.24" height="11.83" fill="#c0b818"/>
<rect x="154.24" y="478.15" width="17.24" height="11.83" fill="#c8c018"/>
<rect x="170.98" y="478.15" width="17.24" height="11.83" fill="#989010"/>
<rect x="53.8" y="489.48" width="17.24" height="11.83" fill="#1414ce"/>
<rect x="70.54" y="489.48" width="17.24" height="11.83" fill="#0c0c94"/>
<rect x="87.28" y="489.48" width="17.24" height="11.83" fill="#0c0ca4"/>
<rect x="104.02" y="489.48" width="17.24" height="11.83" fill="#1010b5"/>
<rect x="120.76" y="489.48" width="17.24" height="11.83" fill="#a8a010"/>
<rect x="137.5" y="489.48" width="17.24" height="11.83" fill="#605818"/>
<rect x="154.24" y="489.48" width="17.24" height="11.83" fill="#c8c018"/>
<rect x="170.98" y="489.48" width="17.24" height="11.83" fill="#c0b818"/>
</g>
<text x="191.9" y="315.5" font-size="6.85" stroke="#1a1a1a" stroke-width="0.15" fill="#1a1a1a">Isobutyryl carnitine</text>
<text x="191.9" y="327.5" font-size="6.85" stroke="#1a1a1a" stroke-width="0.15" fill="#1a1a1a">Butyryl carnitine</text>
<text x="191.9" y="338.1" font-size="6.85" stroke="#1a1a1a" stroke-width="0.15" fill="#1a1a1a">Propeonyl carnitine</text>
<text x="191.9" y="349.5" font-size="6.85" stroke="#1a1a1a" stroke-width="0.15" fill="#1a1a1a">Lauroyl carnitine</text>
<text x="191.9" y="361.2" font-size="6.85" stroke="#1a1a1a" stroke-width="0.15" fill="#1a1a1a">Hexanoyl carnitine</text>
<text x="191.9" y="372.1" font-size="6.85" stroke="#1a1a1a" stroke-width="0.15" fill="#1a1a1a">Isovalery carnitine</text>
<text x="191.9" y="384.2" font-size="6.85" stroke="#1a1a1a" stroke-width="0.15" fill="#1a1a1a">Decanoyl carnitine</text>
<text x="191.9" y="394.5" font-size="6.85" stroke="#1a1a1a" stroke-width="0.15" fill="#1a1a1a">Octanoyl carnitine</text>
<text x="191.9" y="407.1" font-size="6.85" stroke="#1a1a1a" stroke-width="0.15" fill="#1a1a1a">Malonyl carnitine</text>
<text x="191.9" y="419.6" font-size="6.85" stroke="#1a1a1a" stroke-width="0.15" fill="#1a1a1a">Palmitoyl carnitine</text>
<text x="191.9" y="430.5" font-size="6.85" stroke="#1a1a1a" stroke-width="0.15" fill="#1a1a1a">Myristoyl carnitine</text>
<text x="191.9" y="442.7" font-size="6.85" stroke="#1a1a1a" stroke-width="0.15" fill="#1a1a1a">Carnitine</text>
<text x="191.9" y="453.7" font-size="6.85" stroke="#1a1a1a" stroke-width="0.15" fill="#1a1a1a"><tspan font-style="italic">MethylGlutaryl</tspan> carnitine</text>
<text x="191.9" y="465.2" font-size="6.85" stroke="#1a1a1a" stroke-width="0.15" fill="#1a1a1a">Stearoyl carnitine</text>
<text x="191.9" y="475.4" font-size="6.85" stroke="#1a1a1a" stroke-width="0.15" fill="#1a1a1a">Glutaryl carnitine</text>
<text x="191.9" y="486.9" font-size="6.85" stroke="#1a1a1a" stroke-width="0.15" fill="#1a1a1a">Acetyl carnitine</text>
<text x="191.9" y="498.5" font-size="6.85" stroke="#1a1a1a" stroke-width="0.15" fill="#1a1a1a">Deoxy carnitine</text>
<rect x="189.2" y="477.3" width="54.3" height="12.9" fill="none" stroke="#e03c3c" stroke-width="0.9" />
<line x1="0.6" y1="431.3" x2="0.6" y2="490" stroke="#b8b8b8" stroke-width="0.5" />
<line x1="0.6" y1="431.3" x2="37.3" y2="431.3" stroke="#b8b8b8" stroke-width="0.5" />
<line x1="0.6" y1="490" x2="50.4" y2="490" stroke="#b8b8b8" stroke-width="0.5" />
<line x1="50.4" y1="484.7" x2="50.4" y2="495.4" stroke="#b8b8b8" stroke-width="0.5" />
<line x1="50.4" y1="484.7" x2="53.8" y2="484.7" stroke="#b8b8b8" stroke-width="0.5" />
<line x1="50.4" y1="495.4" x2="53.8" y2="495.4" stroke="#b8b8b8" stroke-width="0.5" />
<line x1="37.3" y1="388.7" x2="37.3" y2="473.3" stroke="#b8b8b8" stroke-width="0.5" />
<line x1="37.3" y1="473.3" x2="51" y2="473.3" stroke="#b8b8b8" stroke-width="0.5" />
<line x1="37.3" y1="388.7" x2="43.6" y2="388.7" stroke="#b8b8b8" stroke-width="0.5" />
<line x1="43.6" y1="327.6" x2="43.6" y2="449.2" stroke="#b8b8b8" stroke-width="0.5" />
<line x1="43.6" y1="327.6" x2="48.3" y2="327.6" stroke="#b8b8b8" stroke-width="0.5" />
<line x1="43.6" y1="449.2" x2="49.6" y2="449.2" stroke="#b8b8b8" stroke-width="0.5" />
<line x1="48.3" y1="313.1" x2="48.3" y2="337" stroke="#b8b8b8" stroke-width="0.5" />
<line x1="48.3" y1="313.1" x2="50.5" y2="313.1" stroke="#b8b8b8" stroke-width="0.5" />
<line x1="48.3" y1="337" x2="53.8" y2="337" stroke="#b8b8b8" stroke-width="0.5" />
<line x1="50.5" y1="310.5" x2="50.5" y2="319.5" stroke="#b8b8b8" stroke-width="0.5" />
<line x1="50.5" y1="310.5" x2="53.8" y2="310.5" stroke="#b8b8b8" stroke-width="0.5" />
<line x1="50.5" y1="319.5" x2="53.8" y2="319.5" stroke="#b8b8b8" stroke-width="0.5" />
<line x1="49.6" y1="437" x2="49.6" y2="461.8" stroke="#b8b8b8" stroke-width="0.5" />
<line x1="49.6" y1="461.8" x2="52" y2="461.8" stroke="#b8b8b8" stroke-width="0.5" />
<line x1="51.3" y1="348.9" x2="51.3" y2="437" stroke="#b8b8b8" stroke-width="0.5" />
<line x1="51.3" y1="348.9" x2="53.8" y2="348.9" stroke="#b8b8b8" stroke-width="0.5" />
<line x1="62.17" y1="505.8" x2="62.17" y2="507.4" stroke="#9aa4b8" stroke-width="0.7" />
<line x1="78.91" y1="505.8" x2="78.91" y2="507.4" stroke="#9aa4b8" stroke-width="0.7" />
<line x1="95.65" y1="505.8" x2="95.65" y2="507.4" stroke="#9aa4b8" stroke-width="0.7" />
<line x1="112.39" y1="505.8" x2="112.39" y2="507.4" stroke="#9aa4b8" stroke-width="0.7" />
<line x1="129.13" y1="505.8" x2="129.13" y2="507.4" stroke="#9aa4b8" stroke-width="0.7" />
<line x1="145.87" y1="505.8" x2="145.87" y2="507.4" stroke="#9aa4b8" stroke-width="0.7" />
<line x1="162.61" y1="505.8" x2="162.61" y2="507.4" stroke="#9aa4b8" stroke-width="0.7" />
<line x1="179.35" y1="505.8" x2="179.35" y2="507.4" stroke="#9aa4b8" stroke-width="0.7" />
<text x="264.7" y="282.3" font-size="12" stroke="#000" stroke-width="0.28" font-weight="bold">E</text>
<text x="313.2" y="288.8" font-size="8.3" stroke="#000" stroke-width="0.28" font-weight="bold" text-anchor="middle" textLength="58.8" lengthAdjust="spacingAndGlyphs">Acetyl carnitine</text>
<line x1="296.3" y1="306.8" x2="296.3" y2="389.1" stroke="#000" stroke-width="0.9" />
<line x1="295.9" y1="388.8" x2="351" y2="388.8" stroke="#000" stroke-width="0.9" />
<line x1="293.3" y1="307.24" x2="296.3" y2="307.24" stroke="#000" stroke-width="0.9" />
<text x="292.6" y="309.54" font-size="6.4" stroke="#000" stroke-width="0.26" font-weight="bold" text-anchor="end" textLength="9.6" lengthAdjust="spacingAndGlyphs">0.6</text>
<line x1="293.3" y1="323.56" x2="296.3" y2="323.56" stroke="#000" stroke-width="0.9" />
<text x="292.6" y="325.86" font-size="6.4" stroke="#000" stroke-width="0.26" font-weight="bold" text-anchor="end" textLength="9.6" lengthAdjust="spacingAndGlyphs">0.4</text>
<line x1="293.3" y1="339.88" x2="296.3" y2="339.88" stroke="#000" stroke-width="0.9" />
<text x="292.6" y="342.18" font-size="6.4" stroke="#000" stroke-width="0.26" font-weight="bold" text-anchor="end" textLength="9.6" lengthAdjust="spacingAndGlyphs">0.2</text>
<line x1="293.3" y1="356.2" x2="296.3" y2="356.2" stroke="#000" stroke-width="0.9" />
<text x="292.6" y="358.5" font-size="6.4" stroke="#000" stroke-width="0.26" font-weight="bold" text-anchor="end" textLength="9.6" lengthAdjust="spacingAndGlyphs">0.0</text>
<line x1="293.3" y1="372.52" x2="296.3" y2="372.52" stroke="#000" stroke-width="0.9" />
<text x="292.6" y="374.82" font-size="6.4" stroke="#000" stroke-width="0.26" font-weight="bold" text-anchor="end" textLength="12.9" lengthAdjust="spacingAndGlyphs">&#8722;0.2</text>
<line x1="293.3" y1="388.84" x2="296.3" y2="388.84" stroke="#000" stroke-width="0.9" />
<text x="292.6" y="391.14" font-size="6.4" stroke="#000" stroke-width="0.26" font-weight="bold" text-anchor="end" textLength="12.9" lengthAdjust="spacingAndGlyphs">&#8722;0.4</text>
<line x1="312" y1="388.8" x2="312" y2="391.6" stroke="#000" stroke-width="0.9" />
<line x1="335.4" y1="388.8" x2="335.4" y2="391.6" stroke="#000" stroke-width="0.9" />
<line x1="296.8" y1="356.2" x2="352" y2="356.2" stroke="#777" stroke-width="0.8" stroke-dasharray="0.9,1.3"/>
<line x1="312" y1="340.8" x2="312" y2="348.5" stroke="#222" stroke-width="0.9" />
<line x1="308.5" y1="340.8" x2="316" y2="340.8" stroke="#222" stroke-width="0.9" />
<rect x="304.6" y="348.5" width="15" height="31.6" fill="#7f7f7f" stroke="#222" stroke-width="0.9" />
<line x1="304.6" y1="375.4" x2="319.6" y2="375.4" stroke="#222" stroke-width="0.9" />
<line x1="308.5" y1="381" x2="316" y2="381" stroke="#222" stroke-width="0.8" />
<line x1="312" y1="380.1" x2="312" y2="381" stroke="#222" stroke-width="0.8" />
<line x1="335.4" y1="320.4" x2="335.4" y2="322" stroke="#222" stroke-width="0.9" />
<line x1="331.6" y1="320.4" x2="339.2" y2="320.4" stroke="#222" stroke-width="0.9" />
<rect x="327.7" y="322" width="15.3" height="11" fill="#d9d9d9" stroke="#222" stroke-width="0.9" />
<line x1="327.7" y1="330" x2="343" y2="330" stroke="#222" stroke-width="0.9" />
<line x1="331.6" y1="333.8" x2="339.2" y2="333.8" stroke="#222" stroke-width="0.9" />
<polyline points="312,335.4 312,310.4 335.4,310.4 335.4,315.2" stroke="#000" stroke-width="0.9" fill="none" />
<text x="320.78" y="309.94" font-size="8.5" stroke="#000" stroke-width="0.1" font-weight="bold">*</text>
<text x="325.28" y="309.94" font-size="8.5" stroke="#000" stroke-width="0.1" font-weight="bold">*</text>
<text x="276.2" y="348.6" font-size="8" stroke="#000" stroke-width="0.15" text-anchor="middle" textLength="72.5" lengthAdjust="spacingAndGlyphs" transform="rotate(-90 276.2 348.6)">Relative abundance</text>
<text x="311.6" y="400.8" font-size="7.5" stroke="#000" stroke-width="0.28" font-weight="bold" text-anchor="middle" textLength="20.8" lengthAdjust="spacingAndGlyphs">MCF7</text>
<text x="335.3" y="400.8" font-size="7.5" stroke="#000" stroke-width="0.28" font-weight="bold" text-anchor="middle" textLength="18.6" lengthAdjust="spacingAndGlyphs">TRsa</text>
<text x="390.4" y="282.6" font-size="12.5" stroke="#000" stroke-width="0.28" font-weight="bold">F</text>
<line x1="431.5" y1="289.2" x2="431.5" y2="365" stroke="#000" stroke-width="1" />
<line x1="431" y1="364.5" x2="487.5" y2="364.5" stroke="#000" stroke-width="1" />
<line x1="428.4" y1="364.6" x2="431" y2="364.6" stroke="#000" stroke-width="0.9" />
<text x="428.6" y="366.76" font-size="6" stroke="#000" stroke-width="0.24" font-weight="bold" text-anchor="end" textLength="10.5" lengthAdjust="spacingAndGlyphs">0.0</text>
<line x1="428.4" y1="349.6" x2="431" y2="349.6" stroke="#000" stroke-width="0.9" />
<text x="428.6" y="351.76" font-size="6" stroke="#000" stroke-width="0.24" font-weight="bold" text-anchor="end" textLength="10.5" lengthAdjust="spacingAndGlyphs">0.5</text>
<line x1="428.4" y1="334.6" x2="431" y2="334.6" stroke="#000" stroke-width="0.9" />
<text x="428.6" y="336.76" font-size="6" stroke="#000" stroke-width="0.24" font-weight="bold" text-anchor="end" textLength="10.5" lengthAdjust="spacingAndGlyphs">1.0</text>
<line x1="428.4" y1="319.6" x2="431" y2="319.6" stroke="#000" stroke-width="0.9" />
<text x="428.6" y="321.76" font-size="6" stroke="#000" stroke-width="0.24" font-weight="bold" text-anchor="end" textLength="10.5" lengthAdjust="spacingAndGlyphs">1.5</text>
<line x1="428.4" y1="304.6" x2="431" y2="304.6" stroke="#000" stroke-width="0.9" />
<text x="428.6" y="306.76" font-size="6" stroke="#000" stroke-width="0.24" font-weight="bold" text-anchor="end" textLength="10.5" lengthAdjust="spacingAndGlyphs">2.0</text>
<line x1="428.4" y1="289.6" x2="431" y2="289.6" stroke="#000" stroke-width="0.9" />
<text x="428.6" y="291.76" font-size="6" stroke="#000" stroke-width="0.24" font-weight="bold" text-anchor="end" textLength="10.5" lengthAdjust="spacingAndGlyphs">2.5</text>
<line x1="442.5" y1="331.6" x2="442.5" y2="334.6" stroke="#24449a" stroke-width="0.8" />
<line x1="439.9" y1="331.6" x2="445.1" y2="331.6" stroke="#24449a" stroke-width="0.8" />
<rect x="437" y="334.6" width="11" height="30" fill="#7b9fd8" stroke="#24449a" stroke-width="0.8" />
<line x1="442.5" y1="364.6" x2="442.5" y2="367.4" stroke="#000" stroke-width="0.9" />
<line x1="459.4" y1="298.6" x2="459.4" y2="313.6" stroke="#48288e" stroke-width="0.8" />
<line x1="456.8" y1="298.6" x2="462" y2="298.6" stroke="#48288e" stroke-width="0.8" />
<rect x="453.8" y="306.1" width="11.2" height="58.5" fill="#9b80da" stroke="#48288e" stroke-width="0.8" />
<line x1="459.4" y1="364.6" x2="459.4" y2="367.4" stroke="#000" stroke-width="0.9" />
<line x1="476.65" y1="301" x2="476.65" y2="311.2" stroke="#a8249e" stroke-width="0.8" />
<line x1="474.05" y1="301" x2="479.25" y2="301" stroke="#a8249e" stroke-width="0.8" />
<rect x="471.3" y="306.1" width="10.7" height="58.5" fill="#ef82ef" stroke="#a8249e" stroke-width="0.8" />
<line x1="476.65" y1="364.6" x2="476.65" y2="367.4" stroke="#000" stroke-width="0.9" />
<line x1="459.4" y1="306.1" x2="459.4" y2="313.6" stroke="#333" stroke-width="0.8" />
<line x1="456.8" y1="313.6" x2="462" y2="313.6" stroke="#333" stroke-width="0.8" />
<line x1="476.65" y1="306.1" x2="476.65" y2="311.2" stroke="#333" stroke-width="0.8" />
<line x1="474.05" y1="311.2" x2="479.25" y2="311.2" stroke="#333" stroke-width="0.8" />
<polyline points="442.5,327.5 442.5,291.3 459.4,291.3 459.4,296.3" stroke="#000" stroke-width="0.9" fill="none" />
<text x="447.88" y="291.23" font-size="8.5" stroke="#000" stroke-width="0.1" font-weight="bold">*</text>
<text x="452.88" y="291.23" font-size="8.5" stroke="#000" stroke-width="0.1" font-weight="bold">*</text>
<polyline points="442.5,285 442.5,275.5 476.65,275.5 476.65,297.5" stroke="#000" stroke-width="0.9" fill="none" />
<text x="454.19" y="274.83" font-size="8.5" stroke="#000" stroke-width="0.1" font-weight="bold">*</text>
<text x="458.88" y="274.83" font-size="8.5" stroke="#000" stroke-width="0.1" font-weight="bold">*</text>
<text x="463.58" y="274.83" font-size="8.5" stroke="#000" stroke-width="0.1" font-weight="bold">*</text>
<text x="411.3" y="323.5" font-size="8.4" stroke="#000" stroke-width="0.15" text-anchor="middle" textLength="87" lengthAdjust="spacingAndGlyphs" transform="rotate(-90 411.3 323.5)">Relative ACAA2 mRNA</text>
<text x="444.2" y="373.6" font-size="6.4" stroke="#000" stroke-width="0.26" font-weight="bold" text-anchor="end" transform="rotate(-45 444.2 373.6)">MCF7 con</text>
<text x="460.8" y="373.6" font-size="6.4" stroke="#000" stroke-width="0.26" font-weight="bold" text-anchor="end" transform="rotate(-45 460.8 373.6)">TR1</text>
<text x="478.2" y="373.6" font-size="6.4" stroke="#000" stroke-width="0.26" font-weight="bold" text-anchor="end" transform="rotate(-45 478.2 373.6)">TRsa</text>
<text x="264.6" y="420.3" font-size="12" stroke="#000" stroke-width="0.28" font-weight="bold">G</text>
<text x="292.8" y="436.6" font-size="8.3" stroke="#000" stroke-width="0.15" text-anchor="middle" textLength="21" lengthAdjust="spacingAndGlyphs">MCF7</text>
<text x="316.6" y="436.6" font-size="8.3" stroke="#000" stroke-width="0.15" text-anchor="middle" textLength="14.6" lengthAdjust="spacingAndGlyphs">TR1</text>
<text x="341.1" y="436.6" font-size="8.3" stroke="#000" stroke-width="0.15" text-anchor="middle" textLength="18.4" lengthAdjust="spacingAndGlyphs">TRsa</text>
<rect x="273.2" y="441.5" width="84.5" height="15.4" fill="#fbfbfb" stroke="#2e2e2e" stroke-width="1.1" />
<rect x="278" y="446.8" width="19" height="3.6" rx="1.8" fill="#000" fill-opacity="0.75" filter="url(#bl)"/>
<rect x="303.9" y="447" width="18.5" height="4" rx="2" fill="#000" fill-opacity="0.88" filter="url(#bl)"/>
<rect x="332" y="446.8" width="21.5" height="4.4" rx="2.2" fill="#000" fill-opacity="0.95" filter="url(#bl)"/>
<text x="360.5" y="452.3" font-size="8.4" stroke="#000" stroke-width="0.15">ACAA2</text>
<rect x="273.2" y="460.4" width="84.5" height="19.2" fill="#fbfbfb" stroke="#2e2e2e" stroke-width="1.1" />
<rect x="279.4" y="466" width="19.8" height="5.8" rx="2.9" fill="#000" fill-opacity="1" filter="url(#bl)"/>
<rect x="304.4" y="467" width="20.2" height="6" rx="3" fill="#000" fill-opacity="1" filter="url(#bl)"/>
<rect x="328.8" y="467.9" width="21.2" height="5.8" rx="2.9" fill="#000" fill-opacity="1" filter="url(#bl)"/>
<text x="360.5" y="473.1" font-size="8.4" stroke="#000" stroke-width="0.15"><tspan style="font-family:Liberation Serif">&#946;</tspan>-Actin</text>
<text x="390.2" y="420" font-size="13" stroke="#000" stroke-width="0.28" font-weight="bold">H</text>
<text x="467.2" y="406.4" font-size="7.9" stroke="#000" stroke-width="0.28" font-weight="bold" text-anchor="middle" textLength="63.1" lengthAdjust="spacingAndGlyphs">ACAA2 (P42765)</text>
<rect x="415.4" y="414.6" width="99.8" height="82.9" fill="none" stroke="#a0a0a0" stroke-width="0.7" />
<line x1="413.6" y1="417.7" x2="415.4" y2="417.7" stroke="#555" stroke-width="0.5" />
<text x="411.6" y="417.7" font-size="4.9" stroke="#000" stroke-width="0.08" font-weight="bold" text-anchor="middle" style="font-family:'DejaVu Sans', 'Liberation Sans', sans-serif" transform="rotate(-90 411.6 417.7)">1.0</text>
<line x1="413.6" y1="433.04" x2="415.4" y2="433.04" stroke="#555" stroke-width="0.5" />
<text x="411.6" y="433.04" font-size="4.9" stroke="#000" stroke-width="0.08" font-weight="bold" text-anchor="middle" style="font-family:'DejaVu Sans', 'Liberation Sans', sans-serif" transform="rotate(-90 411.6 433.04)">0.8</text>
<line x1="413.6" y1="448.38" x2="415.4" y2="448.38" stroke="#555" stroke-width="0.5" />
<text x="411.6" y="448.38" font-size="4.9" stroke="#000" stroke-width="0.08" font-weight="bold" text-anchor="middle" style="font-family:'DejaVu Sans', 'Liberation Sans', sans-serif" transform="rotate(-90 411.6 448.38)">0.6</text>
<line x1="413.6" y1="463.72" x2="415.4" y2="463.72" stroke="#555" stroke-width="0.5" />
<text x="411.6" y="463.72" font-size="4.9" stroke="#000" stroke-width="0.08" font-weight="bold" text-anchor="middle" style="font-family:'DejaVu Sans', 'Liberation Sans', sans-serif" transform="rotate(-90 411.6 463.72)">0.4</text>
<line x1="413.6" y1="479.06" x2="415.4" y2="479.06" stroke="#555" stroke-width="0.5" />
<text x="411.6" y="479.06" font-size="4.9" stroke="#000" stroke-width="0.08" font-weight="bold" text-anchor="middle" style="font-family:'DejaVu Sans', 'Liberation Sans', sans-serif" transform="rotate(-90 411.6 479.06)">0.2</text>
<line x1="413.6" y1="494.4" x2="415.4" y2="494.4" stroke="#555" stroke-width="0.5" />
<text x="411.6" y="494.4" font-size="4.9" stroke="#000" stroke-width="0.08" font-weight="bold" text-anchor="middle" style="font-family:'DejaVu Sans', 'Liberation Sans', sans-serif" transform="rotate(-90 411.6 494.4)">0.0</text>
<line x1="419.5" y1="497.5" x2="419.5" y2="499.3" stroke="#555" stroke-width="0.5" />
<text x="419.5" y="503.3" font-size="4.9" stroke="#000" stroke-width="0.08" font-weight="bold" text-anchor="middle" style="font-family:'DejaVu Sans', 'Liberation Sans', sans-serif">0</text>
<line x1="432.8" y1="497.5" x2="432.8" y2="499.3" stroke="#555" stroke-width="0.5" />
<text x="432.8" y="503.3" font-size="4.9" stroke="#000" stroke-width="0.08" font-weight="bold" text-anchor="middle" style="font-family:'DejaVu Sans', 'Liberation Sans', sans-serif">20</text>
<line x1="446.1" y1="497.5" x2="446.1" y2="499.3" stroke="#555" stroke-width="0.5" />
<text x="446.1" y="503.3" font-size="4.9" stroke="#000" stroke-width="0.08" font-weight="bold" text-anchor="middle" style="font-family:'DejaVu Sans', 'Liberation Sans', sans-serif">40</text>
<line x1="459.4" y1="497.5" x2="459.4" y2="499.3" stroke="#555" stroke-width="0.5" />
<text x="459.4" y="503.3" font-size="4.9" stroke="#000" stroke-width="0.08" font-weight="bold" text-anchor="middle" style="font-family:'DejaVu Sans', 'Liberation Sans', sans-serif">60</text>
<line x1="472.7" y1="497.5" x2="472.7" y2="499.3" stroke="#555" stroke-width="0.5" />
<text x="472.7" y="503.3" font-size="4.9" stroke="#000" stroke-width="0.08" font-weight="bold" text-anchor="middle" style="font-family:'DejaVu Sans', 'Liberation Sans', sans-serif">80</text>
<line x1="486" y1="497.5" x2="486" y2="499.3" stroke="#555" stroke-width="0.5" />
<text x="486" y="503.3" font-size="4.9" stroke="#000" stroke-width="0.08" font-weight="bold" text-anchor="middle" style="font-family:'DejaVu Sans', 'Liberation Sans', sans-serif">100</text>
<line x1="499.3" y1="497.5" x2="499.3" y2="499.3" stroke="#555" stroke-width="0.5" />
<line x1="512.6" y1="497.5" x2="512.6" y2="499.3" stroke="#555" stroke-width="0.5" />
<text x="512.6" y="503.3" font-size="4.9" stroke="#000" stroke-width="0.08" font-weight="bold" text-anchor="middle" style="font-family:'DejaVu Sans', 'Liberation Sans', sans-serif">140</text>
<text x="404.3" y="455.3" font-size="4.9" stroke="#000" stroke-width="0.08" font-weight="bold" text-anchor="middle" style="font-family:'DejaVu Sans', 'Liberation Sans', sans-serif" transform="rotate(-90 404.3 455.3)">Probability</text>
<text x="465.5" y="510.7" font-size="4.9" stroke="#000" stroke-width="0.08" font-weight="bold" text-anchor="middle" style="font-family:'DejaVu Sans', 'Liberation Sans', sans-serif">Time (months)</text>
<polyline points="419.5,417.7 426.15,417.7 426.15,422.46 445.44,422.46 445.44,427.29 466.05,427.29 466.05,434.57 510.61,434.57 510.61,434.57" stroke="#4f5a55" stroke-width="0.7" fill="none" />
<line x1="432.8" y1="421.56" x2="432.8" y2="423.36" stroke="#4f5a55" stroke-width="0.5" />
<line x1="449.43" y1="426.39" x2="449.43" y2="428.19" stroke="#4f5a55" stroke-width="0.5" />
<line x1="456.07" y1="426.39" x2="456.07" y2="428.19" stroke="#4f5a55" stroke-width="0.5" />
<line x1="460.73" y1="426.39" x2="460.73" y2="428.19" stroke="#4f5a55" stroke-width="0.5" />
<line x1="472.7" y1="433.67" x2="472.7" y2="435.47" stroke="#4f5a55" stroke-width="0.5" />
<line x1="479.35" y1="433.67" x2="479.35" y2="435.47" stroke="#4f5a55" stroke-width="0.5" />
<line x1="492.65" y1="433.67" x2="492.65" y2="435.47" stroke="#4f5a55" stroke-width="0.5" />
<line x1="502.62" y1="433.67" x2="502.62" y2="435.47" stroke="#4f5a55" stroke-width="0.5" />
<polyline points="419.5,422.3 420.1,422.3 420.1,427.67 428.68,427.67 428.68,431.51 436.79,431.51 436.79,436.11 439.45,436.11 439.45,441.48 445.44,441.48 445.44,446.08 447.43,446.08 447.43,451.06 452.75,451.06 452.75,456.43 457.4,456.43 457.4,463.72 486,463.72 486,463.72" stroke="#e25a5a" stroke-width="0.7" fill="none" />
<line x1="466.05" y1="462.82" x2="466.05" y2="464.62" stroke="#e25a5a" stroke-width="0.5" />
<line x1="476.02" y1="462.82" x2="476.02" y2="464.62" stroke="#e25a5a" stroke-width="0.5" />
<line x1="482.68" y1="462.82" x2="482.68" y2="464.62" stroke="#e25a5a" stroke-width="0.5" />
<text x="485.1" y="481.2" font-size="4.9" stroke="#000" stroke-width="0.08" font-weight="bold" style="font-family:'DejaVu Sans', 'Liberation Sans', sans-serif" textLength="27.7" lengthAdjust="spacingAndGlyphs">Expression</text>
<line x1="487.5" y1="486.3" x2="496" y2="486.3" stroke="#6f8f96" stroke-width="0.8" />
<text x="499.6" y="488" font-size="5.05" stroke="#000" stroke-width="0.22" style="font-family:'DejaVu Sans', 'Liberation Sans', sans-serif">Low</text>
<line x1="487.5" y1="491" x2="496" y2="491" stroke="#e84545" stroke-width="0.8" />
<text x="499.6" y="492.7" font-size="5.05" stroke="#000" stroke-width="0.22" style="font-family:'DejaVu Sans', 'Liberation Sans', sans-serif">High</text>
<text x="452.7" y="420" font-size="4.9" stroke="#000" stroke-width="0.08" font-weight="bold" style="font-family:'DejaVu Sans', 'Liberation Sans', sans-serif" textLength="60.6" lengthAdjust="spacingAndGlyphs">HR = 4.3 (1.15&#8211;16.12)</text>
<text x="464.2" y="426" font-size="4.9" stroke="#000" stroke-width="0.08" font-weight="bold" style="font-family:'DejaVu Sans', 'Liberation Sans', sans-serif" textLength="49.1" lengthAdjust="spacingAndGlyphs">logrank <tspan font-style="italic">P</tspan> = 0.019</text>
<text x="416.2" y="513.3" font-size="3.2" stroke="#000" stroke-width="0.07" style="font-family:'DejaVu Sans', 'Liberation Sans', sans-serif" textLength="23.4" lengthAdjust="spacingAndGlyphs">Number at risk</text>
<text x="407.2" y="518.2" font-size="3.2" stroke="#a03020" stroke-width="0.07" text-anchor="middle" fill="#a03020" style="font-family:'DejaVu Sans', 'Liberation Sans', sans-serif">Low</text>
<text x="407.2" y="521.7" font-size="3.2" stroke="#e02020" stroke-width="0.07" text-anchor="middle" fill="#e02020" style="font-family:'DejaVu Sans', 'Liberation Sans', sans-serif">High</text>
<text x="419.5" y="518.2" font-size="3.2" stroke="#000" stroke-width="0.07" text-anchor="middle" style="font-family:'DejaVu Sans', 'Liberation Sans', sans-serif">18</text>
<text x="419.5" y="521.7" font-size="3.2" stroke="#e02020" stroke-width="0.07" text-anchor="middle" fill="#e02020" style="font-family:'DejaVu Sans', 'Liberation Sans', sans-serif">16</text>
<text x="432.8" y="518.2" font-size="3.2" stroke="#000" stroke-width="0.07" text-anchor="middle" style="font-family:'DejaVu Sans', 'Liberation Sans', sans-serif">15</text>
<text x="432.8" y="521.7" font-size="3.2" stroke="#e02020" stroke-width="0.07" text-anchor="middle" fill="#e02020" style="font-family:'DejaVu Sans', 'Liberation Sans', sans-serif">11</text>
<text x="446.1" y="518.2" font-size="3.2" stroke="#000" stroke-width="0.07" text-anchor="middle" style="font-family:'DejaVu Sans', 'Liberation Sans', sans-serif">14</text>
<text x="446.1" y="521.7" font-size="3.2" stroke="#e02020" stroke-width="0.07" text-anchor="middle" fill="#e02020" style="font-family:'DejaVu Sans', 'Liberation Sans', sans-serif">10</text>
<text x="459.4" y="518.2" font-size="3.2" stroke="#000" stroke-width="0.07" text-anchor="middle" style="font-family:'DejaVu Sans', 'Liberation Sans', sans-serif">10</text>
<text x="459.4" y="521.7" font-size="3.2" stroke="#e02020" stroke-width="0.07" text-anchor="middle" fill="#e02020" style="font-family:'DejaVu Sans', 'Liberation Sans', sans-serif">7</text>
<text x="472.7" y="518.2" font-size="3.2" stroke="#000" stroke-width="0.07" text-anchor="middle" style="font-family:'DejaVu Sans', 'Liberation Sans', sans-serif">7</text>
<text x="472.7" y="521.7" font-size="3.2" stroke="#e02020" stroke-width="0.07" text-anchor="middle" fill="#e02020" style="font-family:'DejaVu Sans', 'Liberation Sans', sans-serif">7</text>
<text x="486" y="518.2" font-size="3.2" stroke="#000" stroke-width="0.07" text-anchor="middle" style="font-family:'DejaVu Sans', 'Liberation Sans', sans-serif">4</text>
<text x="486" y="521.7" font-size="3.2" stroke="#e02020" stroke-width="0.07" text-anchor="middle" fill="#e02020" style="font-family:'DejaVu Sans', 'Liberation Sans', sans-serif">5</text>
<text x="499.3" y="518.2" font-size="3.2" stroke="#000" stroke-width="0.07" text-anchor="middle" style="font-family:'DejaVu Sans', 'Liberation Sans', sans-serif">2</text>
<text x="499.3" y="521.7" font-size="3.2" stroke="#e02020" stroke-width="0.07" text-anchor="middle" fill="#e02020" style="font-family:'DejaVu Sans', 'Liberation Sans', sans-serif">5</text>
<text x="512.6" y="518.2" font-size="3.2" stroke="#000" stroke-width="0.07" text-anchor="middle" style="font-family:'DejaVu Sans', 'Liberation Sans', sans-serif">0</text>
<text x="512.6" y="521.7" font-size="3.2" stroke="#e02020" stroke-width="0.07" text-anchor="middle" fill="#e02020" style="font-family:'DejaVu Sans', 'Liberation Sans', sans-serif">0</text>
<text x="3" y="534.4" font-size="11.5" stroke="#000" stroke-width="0.28" font-weight="bold">I</text>
<text x="103.9" y="533.8" font-size="8.4" stroke="#000" stroke-width="0.28" font-weight="bold" text-anchor="middle" textLength="86.5" lengthAdjust="spacingAndGlyphs">ACAA2 (202003_s_at)</text>
<rect x="40.9" y="542.3" width="124.2" height="102.5" fill="none" stroke="#a0a0a0" stroke-width="0.8" />
<line x1="39.1" y1="546.1" x2="40.9" y2="546.1" stroke="#555" stroke-width="0.5" />
<text x="35.6" y="546.1" font-size="5.8" stroke="#000" stroke-width="0.08" font-weight="bold" text-anchor="middle" style="font-family:'DejaVu Sans', 'Liberation Sans', sans-serif" transform="rotate(-90 35.6 546.1)">1.0</text>
<line x1="39.1" y1="565.08" x2="40.9" y2="565.08" stroke="#555" stroke-width="0.5" />
<text x="35.6" y="565.08" font-size="5.8" stroke="#000" stroke-width="0.08" font-weight="bold" text-anchor="middle" style="font-family:'DejaVu Sans', 'Liberation Sans', sans-serif" transform="rotate(-90 35.6 565.08)">0.8</text>
<line x1="39.1" y1="584.06" x2="40.9" y2="584.06" stroke="#555" stroke-width="0.5" />
<text x="35.6" y="584.06" font-size="5.8" stroke="#000" stroke-width="0.08" font-weight="bold" text-anchor="middle" style="font-family:'DejaVu Sans', 'Liberation Sans', sans-serif" transform="rotate(-90 35.6 584.06)">0.6</text>
<line x1="39.1" y1="603.04" x2="40.9" y2="603.04" stroke="#555" stroke-width="0.5" />
<text x="35.6" y="603.04" font-size="5.8" stroke="#000" stroke-width="0.08" font-weight="bold" text-anchor="middle" style="font-family:'DejaVu Sans', 'Liberation Sans', sans-serif" transform="rotate(-90 35.6 603.04)">0.4</text>
<line x1="39.1" y1="622.02" x2="40.9" y2="622.02" stroke="#555" stroke-width="0.5" />
<text x="35.6" y="622.02" font-size="5.8" stroke="#000" stroke-width="0.08" font-weight="bold" text-anchor="middle" style="font-family:'DejaVu Sans', 'Liberation Sans', sans-serif" transform="rotate(-90 35.6 622.02)">0.2</text>
<line x1="39.1" y1="641" x2="40.9" y2="641" stroke="#555" stroke-width="0.5" />
<text x="35.6" y="641" font-size="5.8" stroke="#000" stroke-width="0.08" font-weight="bold" text-anchor="middle" style="font-family:'DejaVu Sans', 'Liberation Sans', sans-serif" transform="rotate(-90 35.6 641)">0.0</text>
<line x1="45.6" y1="644.8" x2="45.6" y2="646.6" stroke="#555" stroke-width="0.5" />
<text x="45.6" y="653.6" font-size="5.8" stroke="#000" stroke-width="0.08" font-weight="bold" text-anchor="middle" style="font-family:'DejaVu Sans', 'Liberation Sans', sans-serif">0</text>
<line x1="79.34" y1="644.8" x2="79.34" y2="646.6" stroke="#555" stroke-width="0.5" />
<text x="79.34" y="653.6" font-size="5.8" stroke="#000" stroke-width="0.08" font-weight="bold" text-anchor="middle" style="font-family:'DejaVu Sans', 'Liberation Sans', sans-serif">50</text>
<line x1="113.07" y1="644.8" x2="113.07" y2="646.6" stroke="#555" stroke-width="0.5" />
<text x="113.07" y="653.6" font-size="5.8" stroke="#000" stroke-width="0.08" font-weight="bold" text-anchor="middle" style="font-family:'DejaVu Sans', 'Liberation Sans', sans-serif">100</text>
<line x1="146.81" y1="644.8" x2="146.81" y2="646.6" stroke="#555" stroke-width="0.5" />
<text x="146.81" y="653.6" font-size="5.8" stroke="#000" stroke-width="0.08" font-weight="bold" text-anchor="middle" style="font-family:'DejaVu Sans', 'Liberation Sans', sans-serif">150</text>
<text x="26.6" y="593.5" font-size="5.85" stroke="#000" stroke-width="0.08" font-weight="bold" text-anchor="middle" style="font-family:'DejaVu Sans', 'Liberation Sans', sans-serif" transform="rotate(-90 26.6 593.5)">Probability</text>
<text x="103" y="663" font-size="5.85" stroke="#000" stroke-width="0.08" font-weight="bold" text-anchor="middle" style="font-family:'DejaVu Sans', 'Liberation Sans', sans-serif">Time (months)</text>
<polyline points="45.6,546.3 50,546.3 50,547.3 57,547.3 57,548.5 61,548.5 61,551 65,551 65,553.8 71,553.8 71,556.5 77.1,556.5 77.1,559.2 85,559.2 85,560 94.6,560 94.6,561.1 98,561.1 98,563 101.4,563 101.4,564.1 108,564.1 108,565 116.2,565 116.2,566 121,566 121,567.5 125.6,567.5 125.6,568.7 151.2,568.7 151.2,568.7" stroke="#111111" stroke-width="1.5" fill="none" />
<polyline points="45.6,546.3 50,546.3 50,547.8 55.6,547.8 55.6,549.8 60,549.8 60,553 65,553 65,556.5 71,556.5 71,560 77.1,560 77.1,563.3 80,563.3 80,565.5 83.8,565.5 83.8,566.8 92,566.8 92,567 101.4,567 101.4,567.3 103.2,567.3 103.2,570.5 106.7,570.5 106.7,574.8 161.1,574.8 161.1,574.8" stroke="#e01818" stroke-width="1.1" fill="none" />
<line x1="110" y1="573.9" x2="110" y2="575.7" stroke="#e01818" stroke-width="0.5" />
<line x1="114" y1="573.9" x2="114" y2="575.7" stroke="#e01818" stroke-width="0.5" />
<line x1="118" y1="573.9" x2="118" y2="575.7" stroke="#e01818" stroke-width="0.5" />
<line x1="122" y1="573.9" x2="122" y2="575.7" stroke="#e01818" stroke-width="0.5" />
<line x1="126" y1="573.9" x2="126" y2="575.7" stroke="#e01818" stroke-width="0.5" />
<line x1="130" y1="573.9" x2="130" y2="575.7" stroke="#e01818" stroke-width="0.5" />
<line x1="134" y1="573.9" x2="134" y2="575.7" stroke="#e01818" stroke-width="0.5" />
<line x1="138" y1="573.9" x2="138" y2="575.7" stroke="#e01818" stroke-width="0.5" />
<line x1="142" y1="573.9" x2="142" y2="575.7" stroke="#e01818" stroke-width="0.5" />
<line x1="146" y1="573.9" x2="146" y2="575.7" stroke="#e01818" stroke-width="0.5" />
<line x1="150" y1="573.9" x2="150" y2="575.7" stroke="#e01818" stroke-width="0.5" />
<line x1="154" y1="573.9" x2="154" y2="575.7" stroke="#e01818" stroke-width="0.5" />
<line x1="158" y1="573.9" x2="158" y2="575.7" stroke="#e01818" stroke-width="0.5" />
<text x="43.2" y="626" font-size="5.85" stroke="#000" stroke-width="0.08" font-weight="bold" style="font-family:'DejaVu Sans', 'Liberation Sans', sans-serif" textLength="36" lengthAdjust="spacingAndGlyphs">Expression</text>
<line x1="46.6" y1="632" x2="56.7" y2="632" stroke="#6f8f96" stroke-width="0.8" />
<text x="62" y="634" font-size="6.03" stroke="#000" stroke-width="0.22" style="font-family:'DejaVu Sans', 'Liberation Sans', sans-serif">Low</text>
<line x1="46.6" y1="638.3" x2="56.7" y2="638.3" stroke="#e84545" stroke-width="0.8" />
<text x="62" y="640.4" font-size="6.03" stroke="#000" stroke-width="0.22" style="font-family:'DejaVu Sans', 'Liberation Sans', sans-serif">High</text>
<text x="87" y="629.6" font-size="5.85" stroke="#000" stroke-width="0.08" font-weight="bold" style="font-family:'DejaVu Sans', 'Liberation Sans', sans-serif" textLength="75.5" lengthAdjust="spacingAndGlyphs">HR = 1.43 (1.03&#8211;2.01)</text>
<text x="102.5" y="637.1" font-size="5.85" stroke="#000" stroke-width="0.08" font-weight="bold" style="font-family:'DejaVu Sans', 'Liberation Sans', sans-serif" textLength="60" lengthAdjust="spacingAndGlyphs">logrank <tspan font-style="italic">P</tspan> = 0.034</text>
<text x="41.6" y="666.8" font-size="3.9" stroke="#000" stroke-width="0.08" style="font-family:'DejaVu Sans', 'Liberation Sans', sans-serif" textLength="28.9" lengthAdjust="spacingAndGlyphs">Number at risk</text>
<text x="30.3" y="672" font-size="3.9" stroke="#000" stroke-width="0.08" text-anchor="middle" style="font-family:'DejaVu Sans', 'Liberation Sans', sans-serif">Low</text>
<text x="30.3" y="676.9" font-size="3.9" stroke="#e02020" stroke-width="0.08" text-anchor="middle" fill="#e02020" style="font-family:'DejaVu Sans', 'Liberation Sans', sans-serif">High</text>
<text x="45.5" y="672" font-size="3.9" stroke="#000" stroke-width="0.08" text-anchor="middle" style="font-family:'DejaVu Sans', 'Liberation Sans', sans-serif">502</text>
<text x="45.5" y="676.9" font-size="3.9" stroke="#e02020" stroke-width="0.08" text-anchor="middle" fill="#e02020" style="font-family:'DejaVu Sans', 'Liberation Sans', sans-serif">316</text>
<text x="79.2" y="672" font-size="3.9" stroke="#000" stroke-width="0.08" text-anchor="middle" style="font-family:'DejaVu Sans', 'Liberation Sans', sans-serif">268</text>
<text x="79.2" y="676.9" font-size="3.9" stroke="#e02020" stroke-width="0.08" text-anchor="middle" fill="#e02020" style="font-family:'DejaVu Sans', 'Liberation Sans', sans-serif">150</text>
<text x="113" y="672" font-size="3.9" stroke="#000" stroke-width="0.08" text-anchor="middle" style="font-family:'DejaVu Sans', 'Liberation Sans', sans-serif">69</text>
<text x="113" y="676.9" font-size="3.9" stroke="#e02020" stroke-width="0.08" text-anchor="middle" fill="#e02020" style="font-family:'DejaVu Sans', 'Liberation Sans', sans-serif">29</text>
<text x="146.7" y="672" font-size="3.9" stroke="#000" stroke-width="0.08" text-anchor="middle" style="font-family:'DejaVu Sans', 'Liberation Sans', sans-serif">1</text>
<text x="146.7" y="676.9" font-size="3.9" stroke="#e02020" stroke-width="0.08" text-anchor="middle" fill="#e02020" style="font-family:'DejaVu Sans', 'Liberation Sans', sans-serif">3</text>
<text x="200" y="533.8" font-size="12" stroke="#000" stroke-width="0.28" font-weight="bold">J</text>
<text x="279.6" y="533.8" font-size="8.4" stroke="#000" stroke-width="0.28" font-weight="bold" text-anchor="middle" textLength="70" lengthAdjust="spacingAndGlyphs">CPT1 (203633_at)</text>
<rect x="224" y="540.4" width="117.8" height="97.2" fill="none" stroke="#a0a0a0" stroke-width="0.8" />
<line x1="222.2" y1="544.3" x2="224" y2="544.3" stroke="#555" stroke-width="0.5" />
<text x="218.6" y="544.3" font-size="5.5" stroke="#000" stroke-width="0.08" font-weight="bold" text-anchor="middle" style="font-family:'DejaVu Sans', 'Liberation Sans', sans-serif" transform="rotate(-90 218.6 544.3)">1.0</text>
<line x1="222.2" y1="562.36" x2="224" y2="562.36" stroke="#555" stroke-width="0.5" />
<text x="218.6" y="562.36" font-size="5.5" stroke="#000" stroke-width="0.08" font-weight="bold" text-anchor="middle" style="font-family:'DejaVu Sans', 'Liberation Sans', sans-serif" transform="rotate(-90 218.6 562.36)">0.8</text>
<line x1="222.2" y1="580.42" x2="224" y2="580.42" stroke="#555" stroke-width="0.5" />
<text x="218.6" y="580.42" font-size="5.5" stroke="#000" stroke-width="0.08" font-weight="bold" text-anchor="middle" style="font-family:'DejaVu Sans', 'Liberation Sans', sans-serif" transform="rotate(-90 218.6 580.42)">0.6</text>
<line x1="222.2" y1="598.48" x2="224" y2="598.48" stroke="#555" stroke-width="0.5" />
<text x="218.6" y="598.48" font-size="5.5" stroke="#000" stroke-width="0.08" font-weight="bold" text-anchor="middle" style="font-family:'DejaVu Sans', 'Liberation Sans', sans-serif" transform="rotate(-90 218.6 598.48)">0.4</text>
<line x1="222.2" y1="616.54" x2="224" y2="616.54" stroke="#555" stroke-width="0.5" />
<text x="218.6" y="616.54" font-size="5.5" stroke="#000" stroke-width="0.08" font-weight="bold" text-anchor="middle" style="font-family:'DejaVu Sans', 'Liberation Sans', sans-serif" transform="rotate(-90 218.6 616.54)">0.2</text>
<line x1="222.2" y1="634.6" x2="224" y2="634.6" stroke="#555" stroke-width="0.5" />
<text x="218.6" y="634.6" font-size="5.5" stroke="#000" stroke-width="0.08" font-weight="bold" text-anchor="middle" style="font-family:'DejaVu Sans', 'Liberation Sans', sans-serif" transform="rotate(-90 218.6 634.6)">0.0</text>
<line x1="228.4" y1="637.6" x2="228.4" y2="639.4" stroke="#555" stroke-width="0.5" />
<text x="228.4" y="646" font-size="5.5" stroke="#000" stroke-width="0.08" font-weight="bold" text-anchor="middle" style="font-family:'DejaVu Sans', 'Liberation Sans', sans-serif">0</text>
<line x1="260.87" y1="637.6" x2="260.87" y2="639.4" stroke="#555" stroke-width="0.5" />
<text x="260.87" y="646" font-size="5.5" stroke="#000" stroke-width="0.08" font-weight="bold" text-anchor="middle" style="font-family:'DejaVu Sans', 'Liberation Sans', sans-serif">50</text>
<line x1="293.33" y1="637.6" x2="293.33" y2="639.4" stroke="#555" stroke-width="0.5" />
<text x="293.33" y="646" font-size="5.5" stroke="#000" stroke-width="0.08" font-weight="bold" text-anchor="middle" style="font-family:'DejaVu Sans', 'Liberation Sans', sans-serif">100</text>
<line x1="325.8" y1="637.6" x2="325.8" y2="639.4" stroke="#555" stroke-width="0.5" />
<text x="325.8" y="646" font-size="5.5" stroke="#000" stroke-width="0.08" font-weight="bold" text-anchor="middle" style="font-family:'DejaVu Sans', 'Liberation Sans', sans-serif">150</text>
<text x="210" y="589.5" font-size="5.45" stroke="#000" stroke-width="0.08" font-weight="bold" text-anchor="middle" style="font-family:'DejaVu Sans', 'Liberation Sans', sans-serif" transform="rotate(-90 210 589.5)">Probability</text>
<text x="283.5" y="654.6" font-size="5.45" stroke="#000" stroke-width="0.08" font-weight="bold" text-anchor="middle" style="font-family:'DejaVu Sans', 'Liberation Sans', sans-serif">Time (months)</text>
<polyline points="227.9,544.5 233,544.5 233,545.5 239,545.5 239,547.3 244,547.3 244,549 248.8,549 248.8,550.9 253,550.9 253,552 258.6,552 258.6,552.9 266,552.9 266,553.6 275.3,553.6 275.3,554.3 282,554.3 282,555.3 289.2,555.3 289.2,556.5 326.9,556.5 326.9,556.5" stroke="#111111" stroke-width="1.5" fill="none" />
<polyline points="227.9,544.5 233,544.5 233,545.5 237.6,545.5 237.6,546.7 242,546.7 242,550.5 247.4,550.5 247.4,555.1 252,555.1 252,558.5 257.2,558.5 257.2,561.2 261,561.2 261,562.5 265.5,562.5 265.5,563.5 273.9,563.5 273.9,564.9 278,564.9 278,567.5 283.7,567.5 283.7,570.4 290,570.4 290,571.5 296.2,571.5 296.2,572.4 300,572.4 300,573.5 303.2,573.5 303.2,574.6 338,574.6 338,574.6" stroke="#e01818" stroke-width="1.5" fill="none" />
<text x="226.7" y="619.8" font-size="5.45" stroke="#000" stroke-width="0.08" font-weight="bold" style="font-family:'DejaVu Sans', 'Liberation Sans', sans-serif" textLength="33.4" lengthAdjust="spacingAndGlyphs">Expression</text>
<line x1="229.4" y1="625.5" x2="239.5" y2="625.5" stroke="#6f8f96" stroke-width="0.8" />
<text x="244.2" y="627.5" font-size="5.61" stroke="#000" stroke-width="0.22" style="font-family:'DejaVu Sans', 'Liberation Sans', sans-serif">Low</text>
<line x1="229.4" y1="631.5" x2="239.5" y2="631.5" stroke="#e84545" stroke-width="0.8" />
<text x="244.2" y="634.5" font-size="5.61" stroke="#000" stroke-width="0.22" style="font-family:'DejaVu Sans', 'Liberation Sans', sans-serif">High</text>
<text x="267.8" y="624.1" font-size="5.45" stroke="#000" stroke-width="0.08" font-weight="bold" style="font-family:'DejaVu Sans', 'Liberation Sans', sans-serif" textLength="68.8" lengthAdjust="spacingAndGlyphs">HR = 2.27 (1.52&#8211;3.39)</text>
<text x="276.5" y="630.8" font-size="5.45" stroke="#000" stroke-width="0.08" font-weight="bold" style="font-family:'DejaVu Sans', 'Liberation Sans', sans-serif" textLength="62.7" lengthAdjust="spacingAndGlyphs">logrank <tspan font-style="italic">P</tspan> = 3.6e-05</text>
<text x="224" y="659" font-size="3.6" stroke="#000" stroke-width="0.08" style="font-family:'DejaVu Sans', 'Liberation Sans', sans-serif" textLength="26" lengthAdjust="spacingAndGlyphs">Number at risk</text>
<text x="214" y="664" font-size="3.6" stroke="#000" stroke-width="0.08" text-anchor="middle" style="font-family:'DejaVu Sans', 'Liberation Sans', sans-serif">Low</text>
<text x="214" y="668.6" font-size="3.6" stroke="#e02020" stroke-width="0.08" text-anchor="middle" fill="#e02020" style="font-family:'DejaVu Sans', 'Liberation Sans', sans-serif">High</text>
<text x="228.4" y="664" font-size="3.6" stroke="#000" stroke-width="0.08" text-anchor="middle" style="font-family:'DejaVu Sans', 'Liberation Sans', sans-serif">306</text>
<text x="228.4" y="668.6" font-size="3.6" stroke="#e02020" stroke-width="0.08" text-anchor="middle" fill="#e02020" style="font-family:'DejaVu Sans', 'Liberation Sans', sans-serif">312</text>
<text x="260.9" y="664" font-size="3.6" stroke="#000" stroke-width="0.08" text-anchor="middle" style="font-family:'DejaVu Sans', 'Liberation Sans', sans-serif">174</text>
<text x="260.9" y="668.6" font-size="3.6" stroke="#e02020" stroke-width="0.08" text-anchor="middle" fill="#e02020" style="font-family:'DejaVu Sans', 'Liberation Sans', sans-serif">253</text>
<text x="293.3" y="664" font-size="3.6" stroke="#000" stroke-width="0.08" text-anchor="middle" style="font-family:'DejaVu Sans', 'Liberation Sans', sans-serif">42</text>
<text x="293.3" y="668.6" font-size="3.6" stroke="#e02020" stroke-width="0.08" text-anchor="middle" fill="#e02020" style="font-family:'DejaVu Sans', 'Liberation Sans', sans-serif">56</text>
<text x="325.8" y="664" font-size="3.6" stroke="#000" stroke-width="0.08" text-anchor="middle" style="font-family:'DejaVu Sans', 'Liberation Sans', sans-serif">1</text>
<text x="325.8" y="668.6" font-size="3.6" stroke="#e02020" stroke-width="0.08" text-anchor="middle" fill="#e02020" style="font-family:'DejaVu Sans', 'Liberation Sans', sans-serif">3</text>
<text x="377.2" y="549" font-size="14" stroke="#000" stroke-width="0.3">K</text>
<text x="447.2" y="547.3" font-size="8.5" stroke="#000" stroke-width="0.28" font-weight="bold" text-anchor="middle" textLength="79.3" lengthAdjust="spacingAndGlyphs">CPT1 activity assay</text>
<line x1="417.5" y1="573.1" x2="417.5" y2="674" stroke="#000" stroke-width="1" />
<line x1="417" y1="673.5" x2="483.5" y2="673.5" stroke="#000" stroke-width="1" />
<line x1="415.3" y1="673.6" x2="417.9" y2="673.6" stroke="#000" stroke-width="0.9" />
<text x="413.3" y="676.12" font-size="7" stroke="#000" stroke-width="0.28" font-weight="bold" text-anchor="end" textLength="4.15" lengthAdjust="spacingAndGlyphs">0</text>
<line x1="415.3" y1="648.58" x2="417.9" y2="648.58" stroke="#000" stroke-width="0.9" />
<text x="413.3" y="651.1" font-size="7" stroke="#000" stroke-width="0.28" font-weight="bold" text-anchor="end" textLength="8.3" lengthAdjust="spacingAndGlyphs">50</text>
<line x1="415.3" y1="623.55" x2="417.9" y2="623.55" stroke="#000" stroke-width="0.9" />
<text x="413.3" y="626.07" font-size="7" stroke="#000" stroke-width="0.28" font-weight="bold" text-anchor="end" textLength="12.45" lengthAdjust="spacingAndGlyphs">100</text>
<line x1="415.3" y1="598.52" x2="417.9" y2="598.52" stroke="#000" stroke-width="0.9" />
<text x="413.3" y="601.04" font-size="7" stroke="#000" stroke-width="0.28" font-weight="bold" text-anchor="end" textLength="12.45" lengthAdjust="spacingAndGlyphs">150</text>
<line x1="415.3" y1="573.5" x2="417.9" y2="573.5" stroke="#000" stroke-width="0.9" />
<text x="413.3" y="576.02" font-size="7" stroke="#000" stroke-width="0.28" font-weight="bold" text-anchor="end" textLength="12.45" lengthAdjust="spacingAndGlyphs">200</text>
<rect x="425.3" y="623.55" width="13.3" height="50.05" fill="#7b9fd8" stroke="#24449a" stroke-width="0.8" />
<line x1="431.95" y1="673.6" x2="431.95" y2="676.4" stroke="#000" stroke-width="0.9" />
<rect x="445.4" y="604.03" width="13.6" height="69.57" fill="#9b80da" stroke="#48288e" stroke-width="0.8" />
<line x1="452.2" y1="673.6" x2="452.2" y2="676.4" stroke="#000" stroke-width="0.9" />
<line x1="472.35" y1="583.01" x2="472.35" y2="584.51" stroke="#a8249e" stroke-width="0.8" />
<line x1="469.75" y1="583.01" x2="474.95" y2="583.01" stroke="#a8249e" stroke-width="0.8" />
<rect x="465.8" y="584.51" width="13.1" height="89.09" fill="#ef82ef" stroke="#a8249e" stroke-width="0.8" />
<line x1="472.35" y1="673.6" x2="472.35" y2="676.4" stroke="#000" stroke-width="0.9" />
<circle cx="427.75" cy="623.55" r="1.45" fill="#111"/>
<circle cx="430.55" cy="623.55" r="1.45" fill="#111"/>
<circle cx="433.35" cy="623.55" r="1.45" fill="#111"/>
<circle cx="436.15" cy="623.55" r="1.45" fill="#111"/>
<circle cx="448" cy="603.53" r="1.45" fill="#111"/>
<circle cx="450.8" cy="604.03" r="1.45" fill="#111"/>
<circle cx="453.6" cy="604.03" r="1.45" fill="#111"/>
<circle cx="456.4" cy="604.53" r="1.45" fill="#111"/>
<circle cx="468.15" cy="585.51" r="1.45" fill="#111"/>
<circle cx="470.95" cy="584.51" r="1.45" fill="#111"/>
<circle cx="473.75" cy="585.01" r="1.45" fill="#111"/>
<circle cx="476.55" cy="582.51" r="1.45" fill="#111"/>
<circle cx="472.1" cy="579.8" r="1.45" fill="#111"/>
<polyline points="432.2,619.6 432.2,586.3 452.2,586.3 452.2,599.4" stroke="#000" stroke-width="0.9" fill="none" />
<text x="430.81" y="584.75" font-size="10.5" stroke="#000" stroke-width="0.3" font-weight="bold">*</text>
<text x="437.11" y="584.75" font-size="10.5" stroke="#000" stroke-width="0.3" font-weight="bold">*</text>
<text x="443.5" y="584.75" font-size="10.5" stroke="#000" stroke-width="0.3" font-weight="bold">*</text>
<text x="449.81" y="584.75" font-size="10.5" stroke="#000" stroke-width="0.3" font-weight="bold">*</text>
<polyline points="432.2,570.5 432.2,564.8 472.1,564.8 472.1,573.7" stroke="#000" stroke-width="0.9" fill="none" />
<text x="441.2" y="563.46" font-size="10.5" stroke="#000" stroke-width="0.3" font-weight="bold">*</text>
<text x="447.5" y="563.46" font-size="10.5" stroke="#000" stroke-width="0.3" font-weight="bold">*</text>
<text x="453.61" y="563.46" font-size="10.5" stroke="#000" stroke-width="0.3" font-weight="bold">*</text>
<text x="459.9" y="563.46" font-size="10.5" stroke="#000" stroke-width="0.3" font-weight="bold">*</text>
<text x="392.4" y="615.8" font-size="8.4" stroke="#000" stroke-width="0.15" text-anchor="middle" textLength="63.8" lengthAdjust="spacingAndGlyphs" transform="rotate(-90 392.4 615.8)">CPT1 activity (%)</text>
<text x="431.95" y="685.6" font-size="7.5" stroke="#000" stroke-width="0.28" font-weight="bold" text-anchor="middle" textLength="20.7" lengthAdjust="spacingAndGlyphs">MCF7</text>
<text x="452.1" y="685.6" font-size="7.5" stroke="#000" stroke-width="0.28" font-weight="bold" text-anchor="middle" textLength="12.8" lengthAdjust="spacingAndGlyphs">TR1</text>
<text x="471.7" y="685.6" font-size="7.5" stroke="#000" stroke-width="0.28" font-weight="bold" text-anchor="middle" textLength="17.8" lengthAdjust="spacingAndGlyphs">TRsa</text>
</svg></body></html>
